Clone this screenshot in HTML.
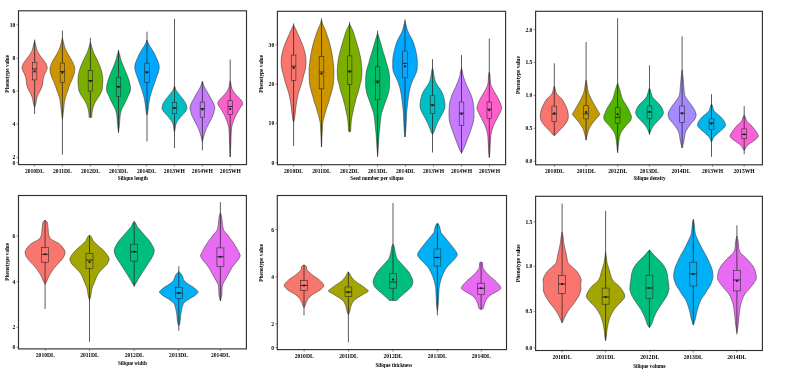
<!DOCTYPE html>
<html><head><meta charset="utf-8"><style>
html,body{margin:0;padding:0;background:#fff;}
svg{display:block;}
text{font-family:'Liberation Serif', 'Times New Roman', serif;font-weight:bold;fill:#000;}
.t{font-size:5.6px;} .ti{font-size:5.15px;} .yl{font-size:5.4px;}
</style></head><body>
<svg width="785" height="387" viewBox="0 0 785 387">
<path d="M34.60 41.00 C34.73 41.50 35.15 43.00 35.40 44.00 C35.65 45.00 35.82 45.93 36.10 47.00 C36.38 48.07 36.75 49.47 37.10 50.40 C37.45 51.33 37.80 51.87 38.20 52.60 C38.60 53.33 39.02 54.07 39.50 54.80 C39.98 55.53 40.55 56.27 41.10 57.00 C41.65 57.73 42.23 58.47 42.80 59.20 C43.37 59.93 43.98 60.67 44.50 61.40 C45.02 62.13 45.52 62.87 45.90 63.60 C46.28 64.33 46.58 65.07 46.80 65.80 C47.02 66.53 47.28 67.18 47.20 68.00 C47.12 68.82 46.67 69.80 46.30 70.70 C45.93 71.60 45.40 72.50 45.00 73.40 C44.60 74.30 44.20 75.18 43.90 76.10 C43.60 77.02 43.37 77.98 43.20 78.90 C43.03 79.82 43.00 80.68 42.90 81.60 C42.80 82.52 42.80 83.48 42.60 84.40 C42.40 85.32 42.03 86.18 41.70 87.10 C41.37 88.02 41.08 88.88 40.60 89.90 C40.12 90.92 39.35 92.10 38.80 93.20 C38.25 94.30 37.70 95.40 37.30 96.50 C36.90 97.60 36.63 98.70 36.40 99.80 C36.17 100.90 36.20 101.82 35.90 103.10 C35.60 104.38 34.82 106.77 34.60 107.50 L34.60 107.50 C34.38 106.77 33.60 104.38 33.30 103.10 C33.00 101.82 33.03 100.90 32.80 99.80 C32.57 98.70 32.30 97.60 31.90 96.50 C31.50 95.40 30.95 94.30 30.40 93.20 C29.85 92.10 29.08 90.92 28.60 89.90 C28.12 88.88 27.83 88.02 27.50 87.10 C27.17 86.18 26.80 85.32 26.60 84.40 C26.40 83.48 26.40 82.52 26.30 81.60 C26.20 80.68 26.17 79.82 26.00 78.90 C25.83 77.98 25.60 77.02 25.30 76.10 C25.00 75.18 24.60 74.30 24.20 73.40 C23.80 72.50 23.27 71.60 22.90 70.70 C22.53 69.80 22.08 68.82 22.00 68.00 C21.92 67.18 22.18 66.53 22.40 65.80 C22.62 65.07 22.92 64.33 23.30 63.60 C23.68 62.87 24.18 62.13 24.70 61.40 C25.22 60.67 25.83 59.93 26.40 59.20 C26.97 58.47 27.55 57.73 28.10 57.00 C28.65 56.27 29.22 55.53 29.70 54.80 C30.18 54.07 30.60 53.33 31.00 52.60 C31.40 51.87 31.75 51.33 32.10 50.40 C32.45 49.47 32.82 48.07 33.10 47.00 C33.38 45.93 33.55 45.00 33.80 44.00 C34.05 43.00 34.47 41.50 34.60 41.00 Z" fill="#F8766D" stroke="#333" stroke-width="0.55"/>
<line x1="34.60" y1="39.60" x2="34.60" y2="114.00" stroke="#262626" stroke-width="0.75"/>
<rect x="32.35" y="62.30" width="4.50" height="17.60" fill="#F8766D" stroke="#2e2e2e" stroke-width="0.6"/>
<line x1="32.35" y1="68.90" x2="36.85" y2="68.90" stroke="#111" stroke-width="0.8"/>
<circle cx="34.60" cy="71.40" r="1.05" fill="#111"/>
<path d="M62.40 38.00 C62.55 38.60 63.02 40.45 63.30 41.60 C63.58 42.75 63.80 43.80 64.10 44.90 C64.40 46.00 64.68 47.10 65.10 48.20 C65.52 49.30 66.05 50.40 66.60 51.50 C67.15 52.60 67.77 53.70 68.40 54.80 C69.03 55.90 69.75 57.00 70.40 58.10 C71.05 59.20 71.73 60.30 72.30 61.40 C72.87 62.50 73.40 63.60 73.80 64.70 C74.20 65.80 74.55 67.00 74.70 68.00 C74.85 69.00 74.77 69.80 74.70 70.70 C74.63 71.60 74.52 72.50 74.30 73.40 C74.08 74.30 73.73 75.18 73.40 76.10 C73.07 77.02 72.68 77.98 72.30 78.90 C71.92 79.82 71.50 80.68 71.10 81.60 C70.70 82.52 70.27 83.48 69.90 84.40 C69.53 85.32 69.20 86.18 68.90 87.10 C68.60 88.02 68.45 88.88 68.10 89.90 C67.75 90.92 67.20 92.10 66.80 93.20 C66.40 94.30 66.02 95.40 65.70 96.50 C65.38 97.60 65.13 98.70 64.90 99.80 C64.67 100.90 64.52 101.45 64.30 103.10 C64.08 104.75 63.82 107.72 63.60 109.70 C63.38 111.68 63.20 113.45 63.00 115.00 C62.80 116.55 62.50 118.33 62.40 119.00 L62.40 119.00 C62.30 118.33 62.00 116.55 61.80 115.00 C61.60 113.45 61.42 111.68 61.20 109.70 C60.98 107.72 60.72 104.75 60.50 103.10 C60.28 101.45 60.13 100.90 59.90 99.80 C59.67 98.70 59.42 97.60 59.10 96.50 C58.78 95.40 58.40 94.30 58.00 93.20 C57.60 92.10 57.05 90.92 56.70 89.90 C56.35 88.88 56.20 88.02 55.90 87.10 C55.60 86.18 55.27 85.32 54.90 84.40 C54.53 83.48 54.10 82.52 53.70 81.60 C53.30 80.68 52.88 79.82 52.50 78.90 C52.12 77.98 51.73 77.02 51.40 76.10 C51.07 75.18 50.72 74.30 50.50 73.40 C50.28 72.50 50.17 71.60 50.10 70.70 C50.03 69.80 49.95 69.00 50.10 68.00 C50.25 67.00 50.60 65.80 51.00 64.70 C51.40 63.60 51.93 62.50 52.50 61.40 C53.07 60.30 53.75 59.20 54.40 58.10 C55.05 57.00 55.77 55.90 56.40 54.80 C57.03 53.70 57.65 52.60 58.20 51.50 C58.75 50.40 59.28 49.30 59.70 48.20 C60.12 47.10 60.40 46.00 60.70 44.90 C61.00 43.80 61.22 42.75 61.50 41.60 C61.78 40.45 62.25 38.60 62.40 38.00 Z" fill="#CD9600" stroke="#333" stroke-width="0.55"/>
<line x1="62.40" y1="30.70" x2="62.40" y2="154.70" stroke="#262626" stroke-width="0.75"/>
<rect x="60.15" y="63.10" width="4.50" height="19.30" fill="#CD9600" stroke="#2e2e2e" stroke-width="0.6"/>
<line x1="60.15" y1="71.50" x2="64.65" y2="71.50" stroke="#111" stroke-width="0.8"/>
<circle cx="62.40" cy="72.70" r="1.05" fill="#111"/>
<path d="M90.40 42.00 C90.57 42.67 91.07 44.83 91.40 46.00 C91.73 47.17 92.08 48.00 92.40 49.00 C92.72 50.00 92.92 51.00 93.30 52.00 C93.68 53.00 94.20 54.00 94.70 55.00 C95.20 56.00 95.80 57.00 96.30 58.00 C96.80 59.00 97.25 60.00 97.70 61.00 C98.15 62.00 98.58 63.00 99.00 64.00 C99.42 65.00 99.83 66.00 100.20 67.00 C100.57 68.00 100.90 69.00 101.20 70.00 C101.50 71.00 101.78 72.02 102.00 73.00 C102.22 73.98 102.37 74.90 102.50 75.90 C102.63 76.90 102.75 78.00 102.80 79.00 C102.85 80.00 102.83 80.92 102.80 81.90 C102.77 82.88 102.68 83.90 102.60 84.90 C102.52 85.90 102.40 87.05 102.30 87.90 C102.20 88.75 102.20 89.23 102.00 90.00 C101.80 90.77 101.47 91.67 101.10 92.50 C100.73 93.33 100.28 94.17 99.80 95.00 C99.32 95.83 98.75 96.68 98.20 97.50 C97.65 98.32 97.02 99.08 96.50 99.90 C95.98 100.72 95.53 101.57 95.10 102.40 C94.67 103.23 94.23 104.08 93.90 104.90 C93.57 105.72 93.33 106.48 93.10 107.30 C92.87 108.12 92.67 108.97 92.50 109.80 C92.33 110.63 92.22 111.47 92.10 112.30 C91.98 113.13 91.88 113.97 91.80 114.80 C91.72 115.63 91.83 116.85 91.60 117.30 C91.37 117.75 90.60 117.47 90.40 117.50 L90.40 117.50 C90.20 117.47 89.43 117.75 89.20 117.30 C88.97 116.85 89.08 115.63 89.00 114.80 C88.92 113.97 88.82 113.13 88.70 112.30 C88.58 111.47 88.47 110.63 88.30 109.80 C88.13 108.97 87.93 108.12 87.70 107.30 C87.47 106.48 87.23 105.72 86.90 104.90 C86.57 104.08 86.13 103.23 85.70 102.40 C85.27 101.57 84.82 100.72 84.30 99.90 C83.78 99.08 83.15 98.32 82.60 97.50 C82.05 96.68 81.48 95.83 81.00 95.00 C80.52 94.17 80.07 93.33 79.70 92.50 C79.33 91.67 79.00 90.77 78.80 90.00 C78.60 89.23 78.60 88.75 78.50 87.90 C78.40 87.05 78.28 85.90 78.20 84.90 C78.12 83.90 78.03 82.88 78.00 81.90 C77.97 80.92 77.95 80.00 78.00 79.00 C78.05 78.00 78.17 76.90 78.30 75.90 C78.43 74.90 78.58 73.98 78.80 73.00 C79.02 72.02 79.30 71.00 79.60 70.00 C79.90 69.00 80.23 68.00 80.60 67.00 C80.97 66.00 81.38 65.00 81.80 64.00 C82.22 63.00 82.65 62.00 83.10 61.00 C83.55 60.00 84.00 59.00 84.50 58.00 C85.00 57.00 85.60 56.00 86.10 55.00 C86.60 54.00 87.12 53.00 87.50 52.00 C87.88 51.00 88.08 50.00 88.40 49.00 C88.72 48.00 89.07 47.17 89.40 46.00 C89.73 44.83 90.23 42.67 90.40 42.00 Z" fill="#7CAE00" stroke="#333" stroke-width="0.55"/>
<line x1="90.40" y1="37.70" x2="90.40" y2="117.30" stroke="#262626" stroke-width="0.75"/>
<rect x="88.15" y="70.60" width="4.50" height="20.50" fill="#7CAE00" stroke="#2e2e2e" stroke-width="0.6"/>
<line x1="88.15" y1="80.50" x2="92.65" y2="80.50" stroke="#111" stroke-width="0.8"/>
<circle cx="90.40" cy="81.20" r="1.05" fill="#111"/>
<path d="M118.50 51.00 C118.63 51.42 119.05 52.67 119.30 53.50 C119.55 54.33 119.82 55.25 120.00 56.00 C120.18 56.75 120.17 57.17 120.40 58.00 C120.63 58.83 121.05 60.00 121.40 61.00 C121.75 62.00 122.12 63.00 122.50 64.00 C122.88 65.00 123.30 66.00 123.70 67.00 C124.10 68.00 124.48 69.00 124.90 70.00 C125.32 71.00 125.78 72.02 126.20 73.00 C126.62 73.98 127.02 74.90 127.40 75.90 C127.78 76.90 128.17 78.00 128.50 79.00 C128.83 80.00 129.13 80.92 129.40 81.90 C129.67 82.88 129.92 83.90 130.10 84.90 C130.28 85.90 130.47 86.90 130.50 87.90 C130.53 88.90 130.47 90.05 130.30 90.90 C130.13 91.75 129.78 92.32 129.50 93.00 C129.22 93.68 128.93 94.25 128.60 95.00 C128.27 95.75 127.87 96.68 127.50 97.50 C127.13 98.32 126.78 99.08 126.40 99.90 C126.02 100.72 125.62 101.57 125.20 102.40 C124.78 103.23 124.33 104.08 123.90 104.90 C123.47 105.72 123.00 106.48 122.60 107.30 C122.20 108.12 121.80 108.97 121.50 109.80 C121.20 110.63 121.00 111.47 120.80 112.30 C120.60 113.13 120.45 113.77 120.30 114.80 C120.15 115.83 120.02 117.27 119.90 118.50 C119.78 119.73 119.72 120.78 119.60 122.20 C119.48 123.62 119.38 125.35 119.20 127.00 C119.02 128.65 118.62 131.25 118.50 132.10 L118.50 132.10 C118.38 131.25 117.98 128.65 117.80 127.00 C117.62 125.35 117.52 123.62 117.40 122.20 C117.28 120.78 117.22 119.73 117.10 118.50 C116.98 117.27 116.85 115.83 116.70 114.80 C116.55 113.77 116.40 113.13 116.20 112.30 C116.00 111.47 115.80 110.63 115.50 109.80 C115.20 108.97 114.80 108.12 114.40 107.30 C114.00 106.48 113.53 105.72 113.10 104.90 C112.67 104.08 112.22 103.23 111.80 102.40 C111.38 101.57 110.98 100.72 110.60 99.90 C110.22 99.08 109.87 98.32 109.50 97.50 C109.13 96.68 108.73 95.75 108.40 95.00 C108.07 94.25 107.78 93.68 107.50 93.00 C107.22 92.32 106.87 91.75 106.70 90.90 C106.53 90.05 106.47 88.90 106.50 87.90 C106.53 86.90 106.72 85.90 106.90 84.90 C107.08 83.90 107.33 82.88 107.60 81.90 C107.87 80.92 108.17 80.00 108.50 79.00 C108.83 78.00 109.22 76.90 109.60 75.90 C109.98 74.90 110.38 73.98 110.80 73.00 C111.22 72.02 111.68 71.00 112.10 70.00 C112.52 69.00 112.90 68.00 113.30 67.00 C113.70 66.00 114.12 65.00 114.50 64.00 C114.88 63.00 115.25 62.00 115.60 61.00 C115.95 60.00 116.37 58.83 116.60 58.00 C116.83 57.17 116.82 56.75 117.00 56.00 C117.18 55.25 117.45 54.33 117.70 53.50 C117.95 52.67 118.37 51.42 118.50 51.00 Z" fill="#00BE67" stroke="#333" stroke-width="0.55"/>
<line x1="118.50" y1="49.90" x2="118.50" y2="132.70" stroke="#262626" stroke-width="0.75"/>
<rect x="116.25" y="77.20" width="4.50" height="19.30" fill="#00BE67" stroke="#2e2e2e" stroke-width="0.6"/>
<line x1="116.25" y1="86.50" x2="120.75" y2="86.50" stroke="#111" stroke-width="0.8"/>
<circle cx="118.50" cy="87.10" r="1.05" fill="#111"/>
<path d="M147.00 40.00 C147.13 40.37 147.38 41.28 147.80 42.20 C148.22 43.12 148.88 44.42 149.50 45.50 C150.12 46.58 150.78 47.53 151.50 48.70 C152.22 49.87 153.10 51.22 153.80 52.50 C154.50 53.78 155.00 54.88 155.70 56.40 C156.40 57.92 157.40 59.87 158.00 61.60 C158.60 63.33 159.23 65.07 159.30 66.80 C159.37 68.53 158.85 70.28 158.40 72.00 C157.95 73.72 157.20 75.38 156.60 77.10 C156.00 78.82 155.42 80.57 154.80 82.30 C154.18 84.03 153.50 85.77 152.90 87.50 C152.30 89.23 151.72 90.98 151.20 92.70 C150.68 94.42 150.18 96.08 149.80 97.80 C149.42 99.52 149.15 101.28 148.90 103.00 C148.65 104.72 148.48 106.60 148.30 108.10 C148.12 109.60 148.02 110.85 147.80 112.00 C147.58 113.15 147.13 114.50 147.00 115.00 L147.00 115.00 C146.87 114.50 146.42 113.15 146.20 112.00 C145.98 110.85 145.88 109.60 145.70 108.10 C145.52 106.60 145.35 104.72 145.10 103.00 C144.85 101.28 144.58 99.52 144.20 97.80 C143.82 96.08 143.32 94.42 142.80 92.70 C142.28 90.98 141.70 89.23 141.10 87.50 C140.50 85.77 139.82 84.03 139.20 82.30 C138.58 80.57 138.00 78.82 137.40 77.10 C136.80 75.38 136.05 73.72 135.60 72.00 C135.15 70.28 134.63 68.53 134.70 66.80 C134.77 65.07 135.40 63.33 136.00 61.60 C136.60 59.87 137.60 57.92 138.30 56.40 C139.00 54.88 139.50 53.78 140.20 52.50 C140.90 51.22 141.78 49.87 142.50 48.70 C143.22 47.53 143.88 46.58 144.50 45.50 C145.12 44.42 145.78 43.12 146.20 42.20 C146.62 41.28 146.87 40.37 147.00 40.00 Z" fill="#00A9FF" stroke="#333" stroke-width="0.55"/>
<line x1="147.00" y1="31.70" x2="147.00" y2="141.50" stroke="#262626" stroke-width="0.75"/>
<rect x="144.75" y="63.10" width="4.50" height="19.30" fill="#00A9FF" stroke="#2e2e2e" stroke-width="0.6"/>
<line x1="144.75" y1="72.00" x2="149.25" y2="72.00" stroke="#111" stroke-width="0.8"/>
<circle cx="147.00" cy="72.50" r="1.05" fill="#111"/>
<path d="M174.50 86.00 C174.63 86.33 175.07 87.33 175.30 88.00 C175.53 88.67 175.58 89.37 175.90 90.00 C176.22 90.63 176.75 91.18 177.20 91.80 C177.65 92.42 178.12 93.08 178.60 93.70 C179.08 94.32 179.60 94.88 180.10 95.50 C180.60 96.12 181.10 96.77 181.60 97.40 C182.10 98.03 182.63 98.67 183.10 99.30 C183.57 99.93 184.00 100.58 184.40 101.20 C184.80 101.82 185.18 102.38 185.50 103.00 C185.82 103.62 186.08 104.28 186.30 104.90 C186.52 105.52 186.70 106.08 186.80 106.70 C186.90 107.32 187.00 107.98 186.90 108.60 C186.80 109.22 186.53 109.78 186.20 110.40 C185.87 111.02 185.40 111.68 184.90 112.30 C184.40 112.92 183.78 113.48 183.20 114.10 C182.62 114.72 181.97 115.37 181.40 116.00 C180.83 116.63 180.32 117.27 179.80 117.90 C179.28 118.53 178.75 119.18 178.30 119.80 C177.85 120.42 177.45 120.98 177.10 121.60 C176.75 122.22 176.47 122.77 176.20 123.50 C175.93 124.23 175.68 125.08 175.50 126.00 C175.32 126.92 175.27 128.00 175.10 129.00 C174.93 130.00 174.60 131.50 174.50 132.00 L174.50 132.00 C174.40 131.50 174.07 130.00 173.90 129.00 C173.73 128.00 173.68 126.92 173.50 126.00 C173.32 125.08 173.07 124.23 172.80 123.50 C172.53 122.77 172.25 122.22 171.90 121.60 C171.55 120.98 171.15 120.42 170.70 119.80 C170.25 119.18 169.72 118.53 169.20 117.90 C168.68 117.27 168.17 116.63 167.60 116.00 C167.03 115.37 166.38 114.72 165.80 114.10 C165.22 113.48 164.60 112.92 164.10 112.30 C163.60 111.68 163.13 111.02 162.80 110.40 C162.47 109.78 162.20 109.22 162.10 108.60 C162.00 107.98 162.10 107.32 162.20 106.70 C162.30 106.08 162.48 105.52 162.70 104.90 C162.92 104.28 163.18 103.62 163.50 103.00 C163.82 102.38 164.20 101.82 164.60 101.20 C165.00 100.58 165.43 99.93 165.90 99.30 C166.37 98.67 166.90 98.03 167.40 97.40 C167.90 96.77 168.40 96.12 168.90 95.50 C169.40 94.88 169.92 94.32 170.40 93.70 C170.88 93.08 171.35 92.42 171.80 91.80 C172.25 91.18 172.78 90.63 173.10 90.00 C173.42 89.37 173.47 88.67 173.70 88.00 C173.93 87.33 174.37 86.33 174.50 86.00 Z" fill="#00BFC4" stroke="#333" stroke-width="0.55"/>
<line x1="174.50" y1="18.70" x2="174.50" y2="148.10" stroke="#262626" stroke-width="0.75"/>
<rect x="172.25" y="102.30" width="4.50" height="11.40" fill="#00BFC4" stroke="#2e2e2e" stroke-width="0.6"/>
<line x1="172.25" y1="108.10" x2="176.75" y2="108.10" stroke="#111" stroke-width="0.8"/>
<circle cx="174.50" cy="108.10" r="1.05" fill="#111"/>
<path d="M202.40 81.30 C202.53 81.75 202.78 82.88 203.20 84.00 C203.62 85.12 204.12 86.50 204.90 88.00 C205.68 89.50 206.92 91.30 207.90 93.00 C208.88 94.70 209.88 96.53 210.80 98.20 C211.72 99.87 212.73 101.43 213.40 103.00 C214.07 104.57 214.68 106.18 214.80 107.60 C214.92 109.02 214.42 110.17 214.10 111.50 C213.78 112.83 213.47 114.18 212.90 115.60 C212.33 117.02 211.43 118.55 210.70 120.00 C209.97 121.45 209.22 122.88 208.50 124.30 C207.78 125.72 207.03 127.05 206.40 128.50 C205.77 129.95 205.17 131.58 204.70 133.00 C204.23 134.42 203.98 135.55 203.60 137.00 C203.22 138.45 202.60 140.92 202.40 141.70 L202.40 141.70 C202.20 140.92 201.58 138.45 201.20 137.00 C200.82 135.55 200.57 134.42 200.10 133.00 C199.63 131.58 199.03 129.95 198.40 128.50 C197.77 127.05 197.02 125.72 196.30 124.30 C195.58 122.88 194.83 121.45 194.10 120.00 C193.37 118.55 192.47 117.02 191.90 115.60 C191.33 114.18 191.02 112.83 190.70 111.50 C190.38 110.17 189.88 109.02 190.00 107.60 C190.12 106.18 190.73 104.57 191.40 103.00 C192.07 101.43 193.08 99.87 194.00 98.20 C194.92 96.53 195.92 94.70 196.90 93.00 C197.88 91.30 199.12 89.50 199.90 88.00 C200.68 86.50 201.18 85.12 201.60 84.00 C202.02 82.88 202.27 81.75 202.40 81.30 Z" fill="#C77CFF" stroke="#333" stroke-width="0.55"/>
<line x1="202.40" y1="81.30" x2="202.40" y2="150.30" stroke="#262626" stroke-width="0.75"/>
<rect x="200.15" y="102.10" width="4.50" height="15.10" fill="#C77CFF" stroke="#2e2e2e" stroke-width="0.6"/>
<line x1="200.15" y1="108.60" x2="204.65" y2="108.60" stroke="#111" stroke-width="0.8"/>
<circle cx="202.40" cy="109.50" r="1.05" fill="#111"/>
<path d="M230.20 81.00 C230.32 81.50 230.70 83.00 230.90 84.00 C231.10 85.00 231.22 86.17 231.40 87.00 C231.58 87.83 231.75 88.42 232.00 89.00 C232.25 89.58 232.60 90.00 232.90 90.50 C233.20 91.00 233.42 91.47 233.80 92.00 C234.18 92.53 234.77 93.15 235.20 93.70 C235.63 94.25 235.90 94.75 236.40 95.30 C236.90 95.85 237.63 96.45 238.20 97.00 C238.77 97.55 239.33 98.12 239.80 98.60 C240.27 99.08 240.67 99.48 241.00 99.90 C241.33 100.32 241.57 100.68 241.80 101.10 C242.03 101.52 242.27 101.98 242.40 102.40 C242.53 102.82 242.62 103.18 242.60 103.60 C242.58 104.02 242.48 104.48 242.30 104.90 C242.12 105.32 241.77 105.70 241.50 106.10 C241.23 106.50 240.98 106.90 240.70 107.30 C240.42 107.70 240.12 108.02 239.80 108.50 C239.48 108.98 239.13 109.63 238.80 110.20 C238.47 110.77 238.13 111.33 237.80 111.90 C237.47 112.47 237.12 113.05 236.80 113.60 C236.48 114.15 236.17 114.65 235.90 115.20 C235.63 115.75 235.43 116.35 235.20 116.90 C234.97 117.45 234.73 117.95 234.50 118.50 C234.27 119.05 234.02 119.65 233.80 120.20 C233.58 120.75 233.43 121.12 233.20 121.80 C232.97 122.48 232.67 123.30 232.40 124.30 C232.13 125.30 231.82 126.02 231.60 127.80 C231.38 129.58 231.23 132.13 231.10 135.00 C230.97 137.87 230.95 141.33 230.80 145.00 C230.65 148.67 230.30 155.00 230.20 157.00 L230.20 157.00 C230.10 155.00 229.75 148.67 229.60 145.00 C229.45 141.33 229.43 137.87 229.30 135.00 C229.17 132.13 229.02 129.58 228.80 127.80 C228.58 126.02 228.27 125.30 228.00 124.30 C227.73 123.30 227.43 122.48 227.20 121.80 C226.97 121.12 226.82 120.75 226.60 120.20 C226.38 119.65 226.13 119.05 225.90 118.50 C225.67 117.95 225.43 117.45 225.20 116.90 C224.97 116.35 224.77 115.75 224.50 115.20 C224.23 114.65 223.92 114.15 223.60 113.60 C223.28 113.05 222.93 112.47 222.60 111.90 C222.27 111.33 221.93 110.77 221.60 110.20 C221.27 109.63 220.92 108.98 220.60 108.50 C220.28 108.02 219.98 107.70 219.70 107.30 C219.42 106.90 219.17 106.50 218.90 106.10 C218.63 105.70 218.28 105.32 218.10 104.90 C217.92 104.48 217.82 104.02 217.80 103.60 C217.78 103.18 217.87 102.82 218.00 102.40 C218.13 101.98 218.37 101.52 218.60 101.10 C218.83 100.68 219.07 100.32 219.40 99.90 C219.73 99.48 220.13 99.08 220.60 98.60 C221.07 98.12 221.63 97.55 222.20 97.00 C222.77 96.45 223.50 95.85 224.00 95.30 C224.50 94.75 224.77 94.25 225.20 93.70 C225.63 93.15 226.22 92.53 226.60 92.00 C226.98 91.47 227.20 91.00 227.50 90.50 C227.80 90.00 228.15 89.58 228.40 89.00 C228.65 88.42 228.82 87.83 229.00 87.00 C229.18 86.17 229.30 85.00 229.50 84.00 C229.70 83.00 230.08 81.50 230.20 81.00 Z" fill="#FF61CC" stroke="#333" stroke-width="0.55"/>
<line x1="230.20" y1="59.60" x2="230.20" y2="157.00" stroke="#262626" stroke-width="0.75"/>
<rect x="227.95" y="100.70" width="4.50" height="13.80" fill="#FF61CC" stroke="#2e2e2e" stroke-width="0.6"/>
<line x1="227.95" y1="106.50" x2="232.45" y2="106.50" stroke="#111" stroke-width="0.8"/>
<circle cx="230.20" cy="109.00" r="1.05" fill="#111"/>
<rect x="18.50" y="10.80" width="228.00" height="153.80" fill="none" stroke="#303030" stroke-width="1.15"/>
<line x1="16.50" y1="24.80" x2="18.50" y2="24.80" stroke="#444" stroke-width="0.6"/>
<text class="t" x="15.30" y="24.80" text-anchor="end" dominant-baseline="central">10</text>
<line x1="16.50" y1="58.30" x2="18.50" y2="58.30" stroke="#444" stroke-width="0.6"/>
<text class="t" x="15.30" y="58.30" text-anchor="end" dominant-baseline="central">8</text>
<line x1="16.50" y1="91.00" x2="18.50" y2="91.00" stroke="#444" stroke-width="0.6"/>
<text class="t" x="15.30" y="91.00" text-anchor="end" dominant-baseline="central">6</text>
<line x1="16.50" y1="124.20" x2="18.50" y2="124.20" stroke="#444" stroke-width="0.6"/>
<text class="t" x="15.30" y="124.20" text-anchor="end" dominant-baseline="central">4</text>
<line x1="16.50" y1="157.40" x2="18.50" y2="157.40" stroke="#444" stroke-width="0.6"/>
<text class="t" x="15.30" y="157.40" text-anchor="end" dominant-baseline="central">2</text>
<line x1="16.50" y1="162.60" x2="18.50" y2="162.60" stroke="#444" stroke-width="0.6"/>
<text class="t" x="15.30" y="162.60" text-anchor="end" dominant-baseline="central">0</text>
<line x1="34.40" y1="164.60" x2="34.40" y2="166.60" stroke="#444" stroke-width="0.6"/>
<text class="t" x="34.40" y="171.20" text-anchor="middle" dominant-baseline="central">2010DL</text>
<line x1="62.40" y1="164.60" x2="62.40" y2="166.60" stroke="#444" stroke-width="0.6"/>
<text class="t" x="62.40" y="171.20" text-anchor="middle" dominant-baseline="central">2011DL</text>
<line x1="90.40" y1="164.60" x2="90.40" y2="166.60" stroke="#444" stroke-width="0.6"/>
<text class="t" x="90.40" y="171.20" text-anchor="middle" dominant-baseline="central">2012DL</text>
<line x1="118.40" y1="164.60" x2="118.40" y2="166.60" stroke="#444" stroke-width="0.6"/>
<text class="t" x="118.40" y="171.20" text-anchor="middle" dominant-baseline="central">2013DL</text>
<line x1="146.40" y1="164.60" x2="146.40" y2="166.60" stroke="#444" stroke-width="0.6"/>
<text class="t" x="146.40" y="171.20" text-anchor="middle" dominant-baseline="central">2014DL</text>
<line x1="174.40" y1="164.60" x2="174.40" y2="166.60" stroke="#444" stroke-width="0.6"/>
<text class="t" x="174.40" y="171.20" text-anchor="middle" dominant-baseline="central">2013WH</text>
<line x1="202.40" y1="164.60" x2="202.40" y2="166.60" stroke="#444" stroke-width="0.6"/>
<text class="t" x="202.40" y="171.20" text-anchor="middle" dominant-baseline="central">2014WH</text>
<line x1="230.40" y1="164.60" x2="230.40" y2="166.60" stroke="#444" stroke-width="0.6"/>
<text class="t" x="230.40" y="171.20" text-anchor="middle" dominant-baseline="central">2015WH</text>
<text class="ti" x="132.90" y="178.40" text-anchor="middle" dominant-baseline="central">Silique length</text>
<text x="7.40" y="73.70" text-anchor="middle" dominant-baseline="central" class="yl" transform="rotate(-90 7.40 73.70)">Phenotype value</text>
<path d="M293.60 25.00 C293.85 25.50 294.63 27.05 295.10 28.00 C295.57 28.95 295.97 29.75 296.40 30.70 C296.83 31.65 297.08 32.32 297.70 33.70 C298.32 35.08 299.28 37.12 300.10 39.00 C300.92 40.88 301.85 42.95 302.60 45.00 C303.35 47.05 304.08 49.30 304.60 51.30 C305.12 53.30 305.47 54.93 305.70 57.00 C305.93 59.07 306.10 61.53 306.00 63.70 C305.90 65.87 305.52 67.93 305.10 70.00 C304.68 72.07 304.02 74.10 303.50 76.10 C302.98 78.10 302.68 79.68 302.00 82.00 C301.32 84.32 300.07 87.83 299.40 90.00 C298.73 92.17 298.43 93.17 298.00 95.00 C297.57 96.83 297.15 99.00 296.80 101.00 C296.45 103.00 296.17 104.93 295.90 107.00 C295.63 109.07 295.45 111.30 295.20 113.40 C294.95 115.50 294.67 118.17 294.40 119.60 C294.13 121.03 293.73 121.60 293.60 122.00 L293.60 122.00 C293.47 121.60 293.07 121.03 292.80 119.60 C292.53 118.17 292.25 115.50 292.00 113.40 C291.75 111.30 291.57 109.07 291.30 107.00 C291.03 104.93 290.75 103.00 290.40 101.00 C290.05 99.00 289.63 96.83 289.20 95.00 C288.77 93.17 288.47 92.17 287.80 90.00 C287.13 87.83 285.88 84.32 285.20 82.00 C284.52 79.68 284.22 78.10 283.70 76.10 C283.18 74.10 282.52 72.07 282.10 70.00 C281.68 67.93 281.30 65.87 281.20 63.70 C281.10 61.53 281.27 59.07 281.50 57.00 C281.73 54.93 282.08 53.30 282.60 51.30 C283.12 49.30 283.85 47.05 284.60 45.00 C285.35 42.95 286.28 40.88 287.10 39.00 C287.92 37.12 288.88 35.08 289.50 33.70 C290.12 32.32 290.37 31.65 290.80 30.70 C291.23 29.75 291.63 28.95 292.10 28.00 C292.57 27.05 293.35 25.50 293.60 25.00 Z" fill="#F8766D" stroke="#333" stroke-width="0.55"/>
<line x1="293.60" y1="23.40" x2="293.60" y2="146.00" stroke="#262626" stroke-width="0.75"/>
<rect x="291.30" y="55.10" width="4.60" height="25.20" fill="#F8766D" stroke="#2e2e2e" stroke-width="0.6"/>
<line x1="291.30" y1="66.20" x2="295.90" y2="66.20" stroke="#111" stroke-width="0.8"/>
<circle cx="293.60" cy="67.90" r="1.05" fill="#111"/>
<path d="M321.50 20.00 C321.75 20.83 322.32 23.22 323.00 25.00 C323.68 26.78 324.88 28.87 325.60 30.70 C326.32 32.53 326.73 34.28 327.30 36.00 C327.87 37.72 328.50 39.33 329.00 41.00 C329.50 42.67 329.88 44.28 330.30 46.00 C330.72 47.72 331.13 49.47 331.50 51.30 C331.87 53.13 332.18 54.93 332.50 57.00 C332.82 59.07 333.17 61.53 333.40 63.70 C333.63 65.87 333.85 67.28 333.90 70.00 C333.95 72.72 333.83 77.42 333.70 80.00 C333.57 82.58 333.42 83.67 333.10 85.50 C332.78 87.33 332.27 89.25 331.80 91.00 C331.33 92.75 330.77 94.33 330.30 96.00 C329.83 97.67 329.43 99.53 329.00 101.00 C328.57 102.47 328.13 103.52 327.70 104.80 C327.27 106.08 326.83 107.27 326.40 108.70 C325.97 110.13 325.50 112.02 325.10 113.40 C324.70 114.78 324.33 115.72 324.00 117.00 C323.67 118.28 323.33 119.77 323.10 121.10 C322.87 122.43 322.77 122.68 322.60 125.00 C322.43 127.32 322.28 131.33 322.10 135.00 C321.92 138.67 321.60 145.00 321.50 147.00 L321.50 147.00 C321.40 145.00 321.08 138.67 320.90 135.00 C320.72 131.33 320.57 127.32 320.40 125.00 C320.23 122.68 320.13 122.43 319.90 121.10 C319.67 119.77 319.33 118.28 319.00 117.00 C318.67 115.72 318.30 114.78 317.90 113.40 C317.50 112.02 317.03 110.13 316.60 108.70 C316.17 107.27 315.73 106.08 315.30 104.80 C314.87 103.52 314.43 102.47 314.00 101.00 C313.57 99.53 313.17 97.67 312.70 96.00 C312.23 94.33 311.67 92.75 311.20 91.00 C310.73 89.25 310.22 87.33 309.90 85.50 C309.58 83.67 309.43 82.58 309.30 80.00 C309.17 77.42 309.05 72.72 309.10 70.00 C309.15 67.28 309.37 65.87 309.60 63.70 C309.83 61.53 310.18 59.07 310.50 57.00 C310.82 54.93 311.13 53.13 311.50 51.30 C311.87 49.47 312.28 47.72 312.70 46.00 C313.12 44.28 313.50 42.67 314.00 41.00 C314.50 39.33 315.13 37.72 315.70 36.00 C316.27 34.28 316.68 32.53 317.40 30.70 C318.12 28.87 319.32 26.78 320.00 25.00 C320.68 23.22 321.25 20.83 321.50 20.00 Z" fill="#CD9600" stroke="#333" stroke-width="0.55"/>
<line x1="321.50" y1="18.30" x2="321.50" y2="147.00" stroke="#262626" stroke-width="0.75"/>
<rect x="319.20" y="56.50" width="4.60" height="32.30" fill="#CD9600" stroke="#2e2e2e" stroke-width="0.6"/>
<line x1="319.20" y1="72.00" x2="323.80" y2="72.00" stroke="#111" stroke-width="0.8"/>
<circle cx="321.50" cy="73.70" r="1.05" fill="#111"/>
<path d="M349.60 24.00 C349.85 24.50 350.55 25.88 351.10 27.00 C351.65 28.12 352.32 29.20 352.90 30.70 C353.48 32.20 354.07 34.28 354.60 36.00 C355.13 37.72 355.60 39.33 356.10 41.00 C356.60 42.67 357.10 44.27 357.60 46.00 C358.10 47.73 358.67 49.73 359.10 51.40 C359.53 53.07 359.85 54.28 360.20 56.00 C360.55 57.72 360.92 59.37 361.20 61.70 C361.48 64.03 361.80 67.78 361.90 70.00 C362.00 72.22 361.92 73.28 361.80 75.00 C361.68 76.72 361.53 78.55 361.20 80.30 C360.87 82.05 360.25 83.72 359.80 85.50 C359.35 87.28 358.98 89.25 358.50 91.00 C358.02 92.75 357.40 94.33 356.90 96.00 C356.40 97.67 355.90 99.53 355.50 101.00 C355.10 102.47 354.82 103.52 354.50 104.80 C354.18 106.08 353.92 107.27 353.60 108.70 C353.28 110.13 352.88 112.02 352.60 113.40 C352.32 114.78 352.12 115.72 351.90 117.00 C351.68 118.28 351.47 119.60 351.30 121.10 C351.13 122.60 351.02 124.35 350.90 126.00 C350.78 127.65 350.82 130.00 350.60 131.00 C350.38 132.00 349.77 131.83 349.60 132.00 L349.60 132.00 C349.43 131.83 348.82 132.00 348.60 131.00 C348.38 130.00 348.42 127.65 348.30 126.00 C348.18 124.35 348.07 122.60 347.90 121.10 C347.73 119.60 347.52 118.28 347.30 117.00 C347.08 115.72 346.88 114.78 346.60 113.40 C346.32 112.02 345.92 110.13 345.60 108.70 C345.28 107.27 345.02 106.08 344.70 104.80 C344.38 103.52 344.10 102.47 343.70 101.00 C343.30 99.53 342.80 97.67 342.30 96.00 C341.80 94.33 341.18 92.75 340.70 91.00 C340.22 89.25 339.85 87.28 339.40 85.50 C338.95 83.72 338.33 82.05 338.00 80.30 C337.67 78.55 337.52 76.72 337.40 75.00 C337.28 73.28 337.20 72.22 337.30 70.00 C337.40 67.78 337.72 64.03 338.00 61.70 C338.28 59.37 338.65 57.72 339.00 56.00 C339.35 54.28 339.67 53.07 340.10 51.40 C340.53 49.73 341.10 47.73 341.60 46.00 C342.10 44.27 342.60 42.67 343.10 41.00 C343.60 39.33 344.07 37.72 344.60 36.00 C345.13 34.28 345.72 32.20 346.30 30.70 C346.88 29.20 347.55 28.12 348.10 27.00 C348.65 25.88 349.35 24.50 349.60 24.00 Z" fill="#7CAE00" stroke="#333" stroke-width="0.55"/>
<line x1="349.60" y1="22.00" x2="349.60" y2="131.60" stroke="#262626" stroke-width="0.75"/>
<rect x="347.30" y="55.90" width="4.60" height="28.60" fill="#7CAE00" stroke="#2e2e2e" stroke-width="0.6"/>
<line x1="347.30" y1="71.00" x2="351.90" y2="71.00" stroke="#111" stroke-width="0.8"/>
<circle cx="349.60" cy="71.70" r="1.05" fill="#111"/>
<path d="M377.60 33.00 C377.80 33.67 378.38 35.67 378.80 37.00 C379.22 38.33 379.70 39.67 380.10 41.00 C380.50 42.33 380.72 43.27 381.20 45.00 C381.68 46.73 382.40 49.40 383.00 51.40 C383.60 53.40 384.20 54.95 384.80 57.00 C385.40 59.05 385.98 61.53 386.60 63.70 C387.22 65.87 388.05 68.12 388.50 70.00 C388.95 71.88 389.12 73.28 389.30 75.00 C389.48 76.72 389.57 78.47 389.60 80.30 C389.63 82.13 389.62 84.22 389.50 86.00 C389.38 87.78 389.17 89.50 388.90 91.00 C388.63 92.50 388.30 93.70 387.90 95.00 C387.50 96.30 386.97 97.52 386.50 98.80 C386.03 100.08 385.57 101.40 385.10 102.70 C384.63 104.00 384.15 105.30 383.70 106.60 C383.25 107.90 382.80 109.22 382.40 110.50 C382.00 111.78 381.62 112.72 381.30 114.30 C380.98 115.88 380.75 117.82 380.50 120.00 C380.25 122.18 380.02 125.23 379.80 127.40 C379.58 129.57 379.38 130.90 379.20 133.00 C379.02 135.10 378.87 137.50 378.70 140.00 C378.53 142.50 378.38 145.43 378.20 148.00 C378.02 150.57 377.70 154.17 377.60 155.40 L377.60 155.40 C377.50 154.17 377.18 150.57 377.00 148.00 C376.82 145.43 376.67 142.50 376.50 140.00 C376.33 137.50 376.18 135.10 376.00 133.00 C375.82 130.90 375.62 129.57 375.40 127.40 C375.18 125.23 374.95 122.18 374.70 120.00 C374.45 117.82 374.22 115.88 373.90 114.30 C373.58 112.72 373.20 111.78 372.80 110.50 C372.40 109.22 371.95 107.90 371.50 106.60 C371.05 105.30 370.57 104.00 370.10 102.70 C369.63 101.40 369.17 100.08 368.70 98.80 C368.23 97.52 367.70 96.30 367.30 95.00 C366.90 93.70 366.57 92.50 366.30 91.00 C366.03 89.50 365.82 87.78 365.70 86.00 C365.58 84.22 365.57 82.13 365.60 80.30 C365.63 78.47 365.72 76.72 365.90 75.00 C366.08 73.28 366.25 71.88 366.70 70.00 C367.15 68.12 367.98 65.87 368.60 63.70 C369.22 61.53 369.80 59.05 370.40 57.00 C371.00 54.95 371.60 53.40 372.20 51.40 C372.80 49.40 373.52 46.73 374.00 45.00 C374.48 43.27 374.70 42.33 375.10 41.00 C375.50 39.67 375.98 38.33 376.40 37.00 C376.82 35.67 377.40 33.67 377.60 33.00 Z" fill="#00BE67" stroke="#333" stroke-width="0.55"/>
<line x1="377.60" y1="30.70" x2="377.60" y2="157.00" stroke="#262626" stroke-width="0.75"/>
<rect x="375.30" y="66.90" width="4.60" height="32.90" fill="#00BE67" stroke="#2e2e2e" stroke-width="0.6"/>
<line x1="375.30" y1="81.00" x2="379.90" y2="81.00" stroke="#111" stroke-width="0.8"/>
<circle cx="377.60" cy="82.40" r="1.05" fill="#111"/>
<path d="M405.00 21.00 C405.17 21.67 405.57 23.38 406.00 25.00 C406.43 26.62 406.90 28.87 407.60 30.70 C408.30 32.53 409.33 34.28 410.20 36.00 C411.07 37.72 412.08 39.33 412.80 41.00 C413.52 42.67 413.98 44.27 414.50 46.00 C415.02 47.73 415.52 49.73 415.90 51.40 C416.28 53.07 416.57 54.28 416.80 56.00 C417.03 57.72 417.27 59.37 417.30 61.70 C417.33 64.03 417.35 67.78 417.00 70.00 C416.65 72.22 415.92 73.28 415.20 75.00 C414.48 76.72 413.47 78.47 412.70 80.30 C411.93 82.13 411.15 84.22 410.60 86.00 C410.05 87.78 409.75 89.33 409.40 91.00 C409.05 92.67 408.77 94.17 408.50 96.00 C408.23 97.83 408.03 100.00 407.80 102.00 C407.57 104.00 407.30 106.17 407.10 108.00 C406.90 109.83 406.73 111.00 406.60 113.00 C406.47 115.00 406.43 117.17 406.30 120.00 C406.17 122.83 406.02 127.17 405.80 130.00 C405.58 132.83 405.13 135.83 405.00 137.00 L405.00 137.00 C404.87 135.83 404.42 132.83 404.20 130.00 C403.98 127.17 403.83 122.83 403.70 120.00 C403.57 117.17 403.53 115.00 403.40 113.00 C403.27 111.00 403.10 109.83 402.90 108.00 C402.70 106.17 402.43 104.00 402.20 102.00 C401.97 100.00 401.77 97.83 401.50 96.00 C401.23 94.17 400.95 92.67 400.60 91.00 C400.25 89.33 399.95 87.78 399.40 86.00 C398.85 84.22 398.07 82.13 397.30 80.30 C396.53 78.47 395.52 76.72 394.80 75.00 C394.08 73.28 393.35 72.22 393.00 70.00 C392.65 67.78 392.67 64.03 392.70 61.70 C392.73 59.37 392.97 57.72 393.20 56.00 C393.43 54.28 393.72 53.07 394.10 51.40 C394.48 49.73 394.98 47.73 395.50 46.00 C396.02 44.27 396.48 42.67 397.20 41.00 C397.92 39.33 398.93 37.72 399.80 36.00 C400.67 34.28 401.70 32.53 402.40 30.70 C403.10 28.87 403.57 26.62 404.00 25.00 C404.43 23.38 404.83 21.67 405.00 21.00 Z" fill="#00A9FF" stroke="#333" stroke-width="0.55"/>
<line x1="405.00" y1="19.30" x2="405.00" y2="137.00" stroke="#262626" stroke-width="0.75"/>
<rect x="402.70" y="51.00" width="4.60" height="26.90" fill="#00A9FF" stroke="#2e2e2e" stroke-width="0.6"/>
<line x1="402.70" y1="63.40" x2="407.30" y2="63.40" stroke="#111" stroke-width="0.8"/>
<circle cx="405.00" cy="66.30" r="1.05" fill="#111"/>
<path d="M432.50 68.00 C432.60 68.33 432.92 69.17 433.10 70.00 C433.28 70.83 433.45 72.00 433.60 73.00 C433.75 74.00 433.85 75.12 434.00 76.00 C434.15 76.88 434.33 77.55 434.50 78.30 C434.67 79.05 434.75 79.75 435.00 80.50 C435.25 81.25 435.63 82.05 436.00 82.80 C436.37 83.55 436.73 84.25 437.20 85.00 C437.67 85.75 438.27 86.55 438.80 87.30 C439.33 88.05 439.92 88.75 440.40 89.50 C440.88 90.25 441.32 91.05 441.70 91.80 C442.08 92.55 442.40 93.25 442.70 94.00 C443.00 94.75 443.27 95.55 443.50 96.30 C443.73 97.05 443.93 97.75 444.10 98.50 C444.27 99.25 444.38 100.05 444.50 100.80 C444.62 101.55 444.72 102.13 444.80 103.00 C444.88 103.87 445.05 105.00 445.00 106.00 C444.95 107.00 444.80 108.00 444.50 109.00 C444.20 110.00 443.68 111.00 443.20 112.00 C442.72 113.00 442.15 114.00 441.60 115.00 C441.05 116.00 440.43 117.00 439.90 118.00 C439.37 119.00 438.90 120.00 438.40 121.00 C437.90 122.00 437.35 123.00 436.90 124.00 C436.45 125.00 436.08 126.00 435.70 127.00 C435.32 128.00 434.92 129.12 434.60 130.00 C434.28 130.88 434.15 131.55 433.80 132.30 C433.45 133.05 432.72 134.13 432.50 134.50 L432.50 134.50 C432.28 134.13 431.55 133.05 431.20 132.30 C430.85 131.55 430.72 130.88 430.40 130.00 C430.08 129.12 429.68 128.00 429.30 127.00 C428.92 126.00 428.55 125.00 428.10 124.00 C427.65 123.00 427.10 122.00 426.60 121.00 C426.10 120.00 425.63 119.00 425.10 118.00 C424.57 117.00 423.95 116.00 423.40 115.00 C422.85 114.00 422.28 113.00 421.80 112.00 C421.32 111.00 420.80 110.00 420.50 109.00 C420.20 108.00 420.05 107.00 420.00 106.00 C419.95 105.00 420.12 103.87 420.20 103.00 C420.28 102.13 420.38 101.55 420.50 100.80 C420.62 100.05 420.73 99.25 420.90 98.50 C421.07 97.75 421.27 97.05 421.50 96.30 C421.73 95.55 422.00 94.75 422.30 94.00 C422.60 93.25 422.92 92.55 423.30 91.80 C423.68 91.05 424.12 90.25 424.60 89.50 C425.08 88.75 425.67 88.05 426.20 87.30 C426.73 86.55 427.33 85.75 427.80 85.00 C428.27 84.25 428.63 83.55 429.00 82.80 C429.37 82.05 429.75 81.25 430.00 80.50 C430.25 79.75 430.33 79.05 430.50 78.30 C430.67 77.55 430.85 76.88 431.00 76.00 C431.15 75.12 431.25 74.00 431.40 73.00 C431.55 72.00 431.72 70.83 431.90 70.00 C432.08 69.17 432.40 68.33 432.50 68.00 Z" fill="#00BFC4" stroke="#333" stroke-width="0.55"/>
<line x1="432.50" y1="59.20" x2="432.50" y2="152.50" stroke="#262626" stroke-width="0.75"/>
<rect x="430.20" y="95.80" width="4.60" height="17.60" fill="#00BFC4" stroke="#2e2e2e" stroke-width="0.6"/>
<line x1="430.20" y1="105.00" x2="434.80" y2="105.00" stroke="#111" stroke-width="0.8"/>
<circle cx="432.50" cy="105.30" r="1.05" fill="#111"/>
<path d="M461.50 68.00 C461.60 68.33 461.90 69.17 462.10 70.00 C462.30 70.83 462.52 72.00 462.70 73.00 C462.88 74.00 463.00 75.12 463.20 76.00 C463.40 76.88 463.65 77.55 463.90 78.30 C464.15 79.05 464.42 79.75 464.70 80.50 C464.98 81.25 465.30 82.05 465.60 82.80 C465.90 83.55 466.18 84.25 466.50 85.00 C466.82 85.75 467.15 86.55 467.50 87.30 C467.85 88.05 468.25 88.75 468.60 89.50 C468.95 90.25 469.27 91.05 469.60 91.80 C469.93 92.55 470.28 93.25 470.60 94.00 C470.92 94.75 471.23 95.55 471.50 96.30 C471.77 97.05 471.98 97.75 472.20 98.50 C472.42 99.25 472.62 100.05 472.80 100.80 C472.98 101.55 473.13 101.88 473.30 103.00 C473.47 104.12 473.68 106.00 473.80 107.50 C473.92 109.00 473.98 110.35 474.00 112.00 C474.02 113.65 473.98 115.90 473.90 117.40 C473.82 118.90 473.70 119.90 473.50 121.00 C473.30 122.10 472.98 123.00 472.70 124.00 C472.42 125.00 472.12 126.00 471.80 127.00 C471.48 128.00 471.15 129.00 470.80 130.00 C470.45 131.00 470.07 132.00 469.70 133.00 C469.33 134.00 468.97 135.00 468.60 136.00 C468.23 137.00 467.87 138.00 467.50 139.00 C467.13 140.00 466.78 141.00 466.40 142.00 C466.02 143.00 465.60 144.00 465.20 145.00 C464.80 146.00 464.38 147.08 464.00 148.00 C463.62 148.92 463.32 149.67 462.90 150.50 C462.48 151.33 461.73 152.58 461.50 153.00 L461.50 153.00 C461.27 152.58 460.52 151.33 460.10 150.50 C459.68 149.67 459.38 148.92 459.00 148.00 C458.62 147.08 458.20 146.00 457.80 145.00 C457.40 144.00 456.98 143.00 456.60 142.00 C456.22 141.00 455.87 140.00 455.50 139.00 C455.13 138.00 454.77 137.00 454.40 136.00 C454.03 135.00 453.67 134.00 453.30 133.00 C452.93 132.00 452.55 131.00 452.20 130.00 C451.85 129.00 451.52 128.00 451.20 127.00 C450.88 126.00 450.58 125.00 450.30 124.00 C450.02 123.00 449.70 122.10 449.50 121.00 C449.30 119.90 449.18 118.90 449.10 117.40 C449.02 115.90 448.98 113.65 449.00 112.00 C449.02 110.35 449.08 109.00 449.20 107.50 C449.32 106.00 449.53 104.12 449.70 103.00 C449.87 101.88 450.02 101.55 450.20 100.80 C450.38 100.05 450.58 99.25 450.80 98.50 C451.02 97.75 451.23 97.05 451.50 96.30 C451.77 95.55 452.08 94.75 452.40 94.00 C452.72 93.25 453.07 92.55 453.40 91.80 C453.73 91.05 454.05 90.25 454.40 89.50 C454.75 88.75 455.15 88.05 455.50 87.30 C455.85 86.55 456.18 85.75 456.50 85.00 C456.82 84.25 457.10 83.55 457.40 82.80 C457.70 82.05 458.02 81.25 458.30 80.50 C458.58 79.75 458.85 79.05 459.10 78.30 C459.35 77.55 459.60 76.88 459.80 76.00 C460.00 75.12 460.12 74.00 460.30 73.00 C460.48 72.00 460.70 70.83 460.90 70.00 C461.10 69.17 461.40 68.33 461.50 68.00 Z" fill="#C77CFF" stroke="#333" stroke-width="0.55"/>
<line x1="461.50" y1="55.10" x2="461.50" y2="153.60" stroke="#262626" stroke-width="0.75"/>
<rect x="459.20" y="102.00" width="4.60" height="23.50" fill="#C77CFF" stroke="#2e2e2e" stroke-width="0.6"/>
<line x1="459.20" y1="113.00" x2="463.80" y2="113.00" stroke="#111" stroke-width="0.8"/>
<circle cx="461.50" cy="114.00" r="1.05" fill="#111"/>
<path d="M489.30 72.00 C489.42 72.50 489.83 73.67 490.00 75.00 C490.17 76.33 490.20 78.67 490.30 80.00 C490.40 81.33 490.50 82.17 490.60 83.00 C490.70 83.83 490.68 84.28 490.90 85.00 C491.12 85.72 491.55 86.55 491.90 87.30 C492.25 88.05 492.60 88.75 493.00 89.50 C493.40 90.25 493.87 91.05 494.30 91.80 C494.73 92.55 495.17 93.25 495.60 94.00 C496.03 94.75 496.47 95.55 496.90 96.30 C497.33 97.05 497.80 97.75 498.20 98.50 C498.60 99.25 498.95 100.05 499.30 100.80 C499.65 101.55 500.00 102.25 500.30 103.00 C500.60 103.75 500.88 104.55 501.10 105.30 C501.32 106.05 501.57 106.75 501.60 107.50 C501.63 108.25 501.55 108.98 501.30 109.80 C501.05 110.62 500.55 111.45 500.10 112.40 C499.65 113.35 499.12 114.47 498.60 115.50 C498.08 116.53 497.53 117.57 497.00 118.60 C496.47 119.63 495.92 120.67 495.40 121.70 C494.88 122.73 494.35 123.77 493.90 124.80 C493.45 125.83 493.07 126.87 492.70 127.90 C492.33 128.93 491.97 129.98 491.70 131.00 C491.43 132.02 491.27 132.97 491.10 134.00 C490.93 135.03 490.85 135.37 490.70 137.20 C490.55 139.03 490.33 142.53 490.20 145.00 C490.07 147.47 490.05 150.00 489.90 152.00 C489.75 154.00 489.40 156.17 489.30 157.00 L489.30 157.00 C489.20 156.17 488.85 154.00 488.70 152.00 C488.55 150.00 488.53 147.47 488.40 145.00 C488.27 142.53 488.05 139.03 487.90 137.20 C487.75 135.37 487.67 135.03 487.50 134.00 C487.33 132.97 487.17 132.02 486.90 131.00 C486.63 129.98 486.27 128.93 485.90 127.90 C485.53 126.87 485.15 125.83 484.70 124.80 C484.25 123.77 483.72 122.73 483.20 121.70 C482.68 120.67 482.13 119.63 481.60 118.60 C481.07 117.57 480.52 116.53 480.00 115.50 C479.48 114.47 478.95 113.35 478.50 112.40 C478.05 111.45 477.55 110.62 477.30 109.80 C477.05 108.98 476.97 108.25 477.00 107.50 C477.03 106.75 477.28 106.05 477.50 105.30 C477.72 104.55 478.00 103.75 478.30 103.00 C478.60 102.25 478.95 101.55 479.30 100.80 C479.65 100.05 480.00 99.25 480.40 98.50 C480.80 97.75 481.27 97.05 481.70 96.30 C482.13 95.55 482.57 94.75 483.00 94.00 C483.43 93.25 483.87 92.55 484.30 91.80 C484.73 91.05 485.20 90.25 485.60 89.50 C486.00 88.75 486.35 88.05 486.70 87.30 C487.05 86.55 487.48 85.72 487.70 85.00 C487.92 84.28 487.90 83.83 488.00 83.00 C488.10 82.17 488.20 81.33 488.30 80.00 C488.40 78.67 488.43 76.33 488.60 75.00 C488.77 73.67 489.18 72.50 489.30 72.00 Z" fill="#FF61CC" stroke="#333" stroke-width="0.55"/>
<line x1="489.30" y1="38.50" x2="489.30" y2="158.00" stroke="#262626" stroke-width="0.75"/>
<rect x="487.00" y="102.00" width="4.60" height="16.50" fill="#FF61CC" stroke="#2e2e2e" stroke-width="0.6"/>
<line x1="487.00" y1="109.00" x2="491.60" y2="109.00" stroke="#111" stroke-width="0.8"/>
<circle cx="489.30" cy="110.30" r="1.05" fill="#111"/>
<rect x="277.40" y="11.30" width="228.20" height="153.40" fill="none" stroke="#303030" stroke-width="1.15"/>
<line x1="275.40" y1="44.80" x2="277.40" y2="44.80" stroke="#444" stroke-width="0.6"/>
<text class="t" x="274.20" y="44.80" text-anchor="end" dominant-baseline="central">30</text>
<line x1="275.40" y1="84.30" x2="277.40" y2="84.30" stroke="#444" stroke-width="0.6"/>
<text class="t" x="274.20" y="84.30" text-anchor="end" dominant-baseline="central">20</text>
<line x1="275.40" y1="123.30" x2="277.40" y2="123.30" stroke="#444" stroke-width="0.6"/>
<text class="t" x="274.20" y="123.30" text-anchor="end" dominant-baseline="central">10</text>
<line x1="275.40" y1="162.80" x2="277.40" y2="162.80" stroke="#444" stroke-width="0.6"/>
<text class="t" x="274.20" y="162.80" text-anchor="end" dominant-baseline="central">0</text>
<line x1="293.50" y1="164.70" x2="293.50" y2="166.70" stroke="#444" stroke-width="0.6"/>
<text class="t" x="293.50" y="170.90" text-anchor="middle" dominant-baseline="central">2010DL</text>
<line x1="321.50" y1="164.70" x2="321.50" y2="166.70" stroke="#444" stroke-width="0.6"/>
<text class="t" x="321.50" y="170.90" text-anchor="middle" dominant-baseline="central">2011DL</text>
<line x1="349.50" y1="164.70" x2="349.50" y2="166.70" stroke="#444" stroke-width="0.6"/>
<text class="t" x="349.50" y="170.90" text-anchor="middle" dominant-baseline="central">2012DL</text>
<line x1="377.50" y1="164.70" x2="377.50" y2="166.70" stroke="#444" stroke-width="0.6"/>
<text class="t" x="377.50" y="170.90" text-anchor="middle" dominant-baseline="central">2013DL</text>
<line x1="405.50" y1="164.70" x2="405.50" y2="166.70" stroke="#444" stroke-width="0.6"/>
<text class="t" x="405.50" y="170.90" text-anchor="middle" dominant-baseline="central">2014DL</text>
<line x1="433.50" y1="164.70" x2="433.50" y2="166.70" stroke="#444" stroke-width="0.6"/>
<text class="t" x="433.50" y="170.90" text-anchor="middle" dominant-baseline="central">2013WH</text>
<line x1="461.50" y1="164.70" x2="461.50" y2="166.70" stroke="#444" stroke-width="0.6"/>
<text class="t" x="461.50" y="170.90" text-anchor="middle" dominant-baseline="central">2014WH</text>
<line x1="489.50" y1="164.70" x2="489.50" y2="166.70" stroke="#444" stroke-width="0.6"/>
<text class="t" x="489.50" y="170.90" text-anchor="middle" dominant-baseline="central">2015WH</text>
<text class="ti" x="376.90" y="178.30" text-anchor="middle" dominant-baseline="central">Seed number per silique</text>
<text x="261.40" y="73.80" text-anchor="middle" dominant-baseline="central" class="yl" transform="rotate(-90 261.40 73.80)">Phenotype value</text>
<path d="M554.30 86.00 C554.43 86.42 554.88 87.70 555.10 88.50 C555.32 89.30 555.43 90.17 555.60 90.80 C555.77 91.43 555.90 91.78 556.10 92.30 C556.30 92.82 556.45 93.37 556.80 93.90 C557.15 94.43 557.70 94.98 558.20 95.50 C558.70 96.02 559.28 96.50 559.80 97.00 C560.32 97.50 560.85 97.98 561.30 98.50 C561.75 99.02 562.05 99.45 562.50 100.10 C562.95 100.75 563.55 101.62 564.00 102.40 C564.45 103.18 564.75 103.88 565.20 104.80 C565.65 105.72 566.30 106.87 566.70 107.90 C567.10 108.93 567.35 109.97 567.60 111.00 C567.85 112.03 568.08 113.07 568.20 114.10 C568.32 115.13 568.37 116.30 568.30 117.20 C568.23 118.10 568.05 118.73 567.80 119.50 C567.55 120.27 567.23 121.02 566.80 121.80 C566.37 122.58 565.78 123.42 565.20 124.20 C564.62 124.98 563.98 125.73 563.30 126.50 C562.62 127.27 561.83 128.03 561.10 128.80 C560.37 129.57 559.52 130.45 558.90 131.10 C558.28 131.75 557.85 132.18 557.40 132.70 C556.95 133.22 556.72 133.75 556.20 134.20 C555.68 134.65 554.62 135.20 554.30 135.40 L554.30 135.40 C553.98 135.20 552.92 134.65 552.40 134.20 C551.88 133.75 551.65 133.22 551.20 132.70 C550.75 132.18 550.32 131.75 549.70 131.10 C549.08 130.45 548.23 129.57 547.50 128.80 C546.77 128.03 545.98 127.27 545.30 126.50 C544.62 125.73 543.98 124.98 543.40 124.20 C542.82 123.42 542.23 122.58 541.80 121.80 C541.37 121.02 541.05 120.27 540.80 119.50 C540.55 118.73 540.37 118.10 540.30 117.20 C540.23 116.30 540.28 115.13 540.40 114.10 C540.52 113.07 540.75 112.03 541.00 111.00 C541.25 109.97 541.50 108.93 541.90 107.90 C542.30 106.87 542.95 105.72 543.40 104.80 C543.85 103.88 544.15 103.18 544.60 102.40 C545.05 101.62 545.65 100.75 546.10 100.10 C546.55 99.45 546.85 99.02 547.30 98.50 C547.75 97.98 548.28 97.50 548.80 97.00 C549.32 96.50 549.90 96.02 550.40 95.50 C550.90 94.98 551.45 94.43 551.80 93.90 C552.15 93.37 552.30 92.82 552.50 92.30 C552.70 91.78 552.83 91.43 553.00 90.80 C553.17 90.17 553.28 89.30 553.50 88.50 C553.72 87.70 554.17 86.42 554.30 86.00 Z" fill="#F8766D" stroke="#333" stroke-width="0.55"/>
<line x1="554.30" y1="63.30" x2="554.30" y2="135.60" stroke="#262626" stroke-width="0.75"/>
<rect x="551.90" y="106.10" width="4.80" height="15.40" fill="#F8766D" stroke="#2e2e2e" stroke-width="0.6"/>
<line x1="551.90" y1="113.90" x2="556.70" y2="113.90" stroke="#111" stroke-width="0.8"/>
<circle cx="554.30" cy="113.40" r="1.05" fill="#111"/>
<path d="M586.10 80.00 C586.23 80.67 586.70 82.83 586.90 84.00 C587.10 85.17 587.17 86.12 587.30 87.00 C587.43 87.88 587.52 88.40 587.70 89.30 C587.88 90.20 588.13 91.50 588.40 92.40 C588.67 93.30 588.98 93.93 589.30 94.70 C589.62 95.47 589.93 96.22 590.30 97.00 C590.67 97.78 591.10 98.62 591.50 99.40 C591.90 100.18 592.28 100.93 592.70 101.70 C593.12 102.47 593.57 103.23 594.00 104.00 C594.43 104.77 594.85 105.52 595.30 106.30 C595.75 107.08 596.25 107.92 596.70 108.70 C597.15 109.48 597.63 110.37 598.00 111.00 C598.37 111.63 598.62 111.98 598.90 112.50 C599.18 113.02 599.70 113.57 599.70 114.10 C599.70 114.63 599.25 115.18 598.90 115.70 C598.55 116.22 598.15 116.57 597.60 117.20 C597.05 117.83 596.27 118.73 595.60 119.50 C594.93 120.27 594.23 121.02 593.60 121.80 C592.97 122.58 592.35 123.42 591.80 124.20 C591.25 124.98 590.75 125.73 590.30 126.50 C589.85 127.27 589.43 128.03 589.10 128.80 C588.77 129.57 588.60 130.12 588.30 131.10 C588.00 132.08 587.67 133.20 587.30 134.70 C586.93 136.20 586.30 139.20 586.10 140.10 L586.10 140.10 C585.90 139.20 585.27 136.20 584.90 134.70 C584.53 133.20 584.20 132.08 583.90 131.10 C583.60 130.12 583.43 129.57 583.10 128.80 C582.77 128.03 582.35 127.27 581.90 126.50 C581.45 125.73 580.95 124.98 580.40 124.20 C579.85 123.42 579.23 122.58 578.60 121.80 C577.97 121.02 577.27 120.27 576.60 119.50 C575.93 118.73 575.15 117.83 574.60 117.20 C574.05 116.57 573.65 116.22 573.30 115.70 C572.95 115.18 572.50 114.63 572.50 114.10 C572.50 113.57 573.02 113.02 573.30 112.50 C573.58 111.98 573.83 111.63 574.20 111.00 C574.57 110.37 575.05 109.48 575.50 108.70 C575.95 107.92 576.45 107.08 576.90 106.30 C577.35 105.52 577.77 104.77 578.20 104.00 C578.63 103.23 579.08 102.47 579.50 101.70 C579.92 100.93 580.30 100.18 580.70 99.40 C581.10 98.62 581.53 97.78 581.90 97.00 C582.27 96.22 582.58 95.47 582.90 94.70 C583.22 93.93 583.53 93.30 583.80 92.40 C584.07 91.50 584.32 90.20 584.50 89.30 C584.68 88.40 584.77 87.88 584.90 87.00 C585.03 86.12 585.10 85.17 585.30 84.00 C585.50 82.83 585.97 80.67 586.10 80.00 Z" fill="#C49A00" stroke="#333" stroke-width="0.55"/>
<line x1="586.10" y1="42.00" x2="586.10" y2="140.10" stroke="#262626" stroke-width="0.75"/>
<rect x="583.70" y="105.70" width="4.80" height="13.20" fill="#C49A00" stroke="#2e2e2e" stroke-width="0.6"/>
<line x1="583.70" y1="113.90" x2="588.50" y2="113.90" stroke="#111" stroke-width="0.8"/>
<circle cx="586.10" cy="112.10" r="1.05" fill="#111"/>
<path d="M617.60 83.00 C617.77 83.50 618.30 85.08 618.60 86.00 C618.90 86.92 619.17 87.78 619.40 88.50 C619.63 89.22 619.80 89.57 620.00 90.30 C620.20 91.03 620.35 91.92 620.60 92.90 C620.85 93.88 621.17 95.12 621.50 96.20 C621.83 97.28 622.10 98.33 622.60 99.40 C623.10 100.47 623.83 101.53 624.50 102.60 C625.17 103.67 625.95 104.73 626.60 105.80 C627.25 106.87 627.85 107.92 628.40 109.00 C628.95 110.08 629.48 111.33 629.90 112.30 C630.32 113.27 630.63 113.95 630.90 114.80 C631.17 115.65 631.48 116.63 631.50 117.40 C631.52 118.17 631.25 118.75 631.00 119.40 C630.75 120.05 630.45 120.65 630.00 121.30 C629.55 121.95 628.92 122.65 628.30 123.30 C627.68 123.95 627.00 124.42 626.30 125.20 C625.60 125.98 624.78 127.12 624.10 128.00 C623.42 128.88 622.77 129.68 622.20 130.50 C621.63 131.32 621.12 131.98 620.70 132.90 C620.28 133.82 619.97 134.98 619.70 136.00 C619.43 137.02 619.32 137.50 619.10 139.00 C618.88 140.50 618.65 142.75 618.40 145.00 C618.15 147.25 617.73 151.25 617.60 152.50 L617.60 152.50 C617.47 151.25 617.05 147.25 616.80 145.00 C616.55 142.75 616.32 140.50 616.10 139.00 C615.88 137.50 615.77 137.02 615.50 136.00 C615.23 134.98 614.92 133.82 614.50 132.90 C614.08 131.98 613.57 131.32 613.00 130.50 C612.43 129.68 611.78 128.88 611.10 128.00 C610.42 127.12 609.60 125.98 608.90 125.20 C608.20 124.42 607.52 123.95 606.90 123.30 C606.28 122.65 605.65 121.95 605.20 121.30 C604.75 120.65 604.45 120.05 604.20 119.40 C603.95 118.75 603.68 118.17 603.70 117.40 C603.72 116.63 604.03 115.65 604.30 114.80 C604.57 113.95 604.88 113.27 605.30 112.30 C605.72 111.33 606.25 110.08 606.80 109.00 C607.35 107.92 607.95 106.87 608.60 105.80 C609.25 104.73 610.03 103.67 610.70 102.60 C611.37 101.53 612.10 100.47 612.60 99.40 C613.10 98.33 613.37 97.28 613.70 96.20 C614.03 95.12 614.35 93.88 614.60 92.90 C614.85 91.92 615.00 91.03 615.20 90.30 C615.40 89.57 615.57 89.22 615.80 88.50 C616.03 87.78 616.30 86.92 616.60 86.00 C616.90 85.08 617.43 83.50 617.60 83.00 Z" fill="#53B400" stroke="#333" stroke-width="0.55"/>
<line x1="617.60" y1="18.30" x2="617.60" y2="152.50" stroke="#262626" stroke-width="0.75"/>
<rect x="615.20" y="107.70" width="4.80" height="15.50" fill="#53B400" stroke="#2e2e2e" stroke-width="0.6"/>
<line x1="615.20" y1="117.40" x2="620.00" y2="117.40" stroke="#111" stroke-width="0.8"/>
<circle cx="617.60" cy="114.20" r="1.05" fill="#111"/>
<path d="M649.50 88.00 C649.67 88.42 650.25 89.70 650.50 90.50 C650.75 91.30 650.80 92.05 651.00 92.80 C651.20 93.55 651.45 94.30 651.70 95.00 C651.95 95.70 652.05 96.30 652.50 97.00 C652.95 97.70 653.75 98.48 654.40 99.20 C655.05 99.92 655.70 100.58 656.40 101.30 C657.10 102.02 657.93 102.78 658.60 103.50 C659.27 104.22 659.87 104.90 660.40 105.60 C660.93 106.30 661.42 107.00 661.80 107.70 C662.18 108.40 662.43 108.97 662.70 109.80 C662.97 110.63 663.38 111.87 663.40 112.70 C663.42 113.53 663.12 114.10 662.80 114.80 C662.48 115.50 662.02 116.20 661.50 116.90 C660.98 117.60 660.37 118.28 659.70 119.00 C659.03 119.72 658.20 120.48 657.50 121.20 C656.80 121.92 656.13 122.58 655.50 123.30 C654.87 124.02 654.23 124.78 653.70 125.50 C653.17 126.22 652.72 126.90 652.30 127.60 C651.88 128.30 651.53 128.97 651.20 129.70 C650.87 130.43 650.58 131.28 650.30 132.00 C650.02 132.72 649.63 133.67 649.50 134.00 L649.50 134.00 C649.37 133.67 648.98 132.72 648.70 132.00 C648.42 131.28 648.13 130.43 647.80 129.70 C647.47 128.97 647.12 128.30 646.70 127.60 C646.28 126.90 645.83 126.22 645.30 125.50 C644.77 124.78 644.13 124.02 643.50 123.30 C642.87 122.58 642.20 121.92 641.50 121.20 C640.80 120.48 639.97 119.72 639.30 119.00 C638.63 118.28 638.02 117.60 637.50 116.90 C636.98 116.20 636.52 115.50 636.20 114.80 C635.88 114.10 635.58 113.53 635.60 112.70 C635.62 111.87 636.03 110.63 636.30 109.80 C636.57 108.97 636.82 108.40 637.20 107.70 C637.58 107.00 638.07 106.30 638.60 105.60 C639.13 104.90 639.73 104.22 640.40 103.50 C641.07 102.78 641.90 102.02 642.60 101.30 C643.30 100.58 643.95 99.92 644.60 99.20 C645.25 98.48 646.05 97.70 646.50 97.00 C646.95 96.30 647.05 95.70 647.30 95.00 C647.55 94.30 647.80 93.55 648.00 92.80 C648.20 92.05 648.25 91.30 648.50 90.50 C648.75 89.70 649.33 88.42 649.50 88.00 Z" fill="#00C094" stroke="#333" stroke-width="0.55"/>
<line x1="649.50" y1="65.40" x2="649.50" y2="134.90" stroke="#262626" stroke-width="0.75"/>
<rect x="647.10" y="106.00" width="4.80" height="12.40" fill="#00C094" stroke="#2e2e2e" stroke-width="0.6"/>
<line x1="647.10" y1="112.00" x2="651.90" y2="112.00" stroke="#111" stroke-width="0.8"/>
<circle cx="649.50" cy="111.80" r="1.05" fill="#111"/>
<path d="M682.10 70.00 C682.23 71.00 682.70 74.33 682.90 76.00 C683.10 77.67 683.17 78.50 683.30 80.00 C683.43 81.50 683.57 83.33 683.70 85.00 C683.83 86.67 683.95 88.47 684.10 90.00 C684.25 91.53 684.35 93.03 684.60 94.20 C684.85 95.37 685.18 96.17 685.60 97.00 C686.02 97.83 686.60 98.48 687.10 99.20 C687.60 99.92 688.08 100.58 688.60 101.30 C689.12 102.02 689.67 102.78 690.20 103.50 C690.73 104.22 691.30 104.90 691.80 105.60 C692.30 106.30 692.77 107.00 693.20 107.70 C693.63 108.40 694.03 109.08 694.40 109.80 C694.77 110.52 695.12 111.28 695.40 112.00 C695.68 112.72 696.02 113.38 696.10 114.10 C696.18 114.82 696.05 115.58 695.90 116.30 C695.75 117.02 695.55 117.70 695.20 118.40 C694.85 119.10 694.33 119.80 693.80 120.50 C693.27 121.20 692.60 121.88 692.00 122.60 C691.40 123.32 690.78 124.08 690.20 124.80 C689.62 125.52 689.02 126.20 688.50 126.90 C687.98 127.60 687.53 128.30 687.10 129.00 C686.67 129.70 686.30 130.03 685.90 131.10 C685.50 132.17 685.07 133.57 684.70 135.40 C684.33 137.23 684.13 140.00 683.70 142.10 C683.27 144.20 682.37 147.02 682.10 148.00 L682.10 148.00 C681.83 147.02 680.93 144.20 680.50 142.10 C680.07 140.00 679.87 137.23 679.50 135.40 C679.13 133.57 678.70 132.17 678.30 131.10 C677.90 130.03 677.53 129.70 677.10 129.00 C676.67 128.30 676.22 127.60 675.70 126.90 C675.18 126.20 674.58 125.52 674.00 124.80 C673.42 124.08 672.80 123.32 672.20 122.60 C671.60 121.88 670.93 121.20 670.40 120.50 C669.87 119.80 669.35 119.10 669.00 118.40 C668.65 117.70 668.45 117.02 668.30 116.30 C668.15 115.58 668.02 114.82 668.10 114.10 C668.18 113.38 668.52 112.72 668.80 112.00 C669.08 111.28 669.43 110.52 669.80 109.80 C670.17 109.08 670.57 108.40 671.00 107.70 C671.43 107.00 671.90 106.30 672.40 105.60 C672.90 104.90 673.47 104.22 674.00 103.50 C674.53 102.78 675.08 102.02 675.60 101.30 C676.12 100.58 676.60 99.92 677.10 99.20 C677.60 98.48 678.18 97.83 678.60 97.00 C679.02 96.17 679.35 95.37 679.60 94.20 C679.85 93.03 679.95 91.53 680.10 90.00 C680.25 88.47 680.37 86.67 680.50 85.00 C680.63 83.33 680.77 81.50 680.90 80.00 C681.03 78.50 681.10 77.67 681.30 76.00 C681.50 74.33 681.97 71.00 682.10 70.00 Z" fill="#A58AFF" stroke="#333" stroke-width="0.55"/>
<line x1="682.10" y1="36.40" x2="682.10" y2="147.90" stroke="#262626" stroke-width="0.75"/>
<rect x="679.70" y="106.00" width="4.80" height="16.50" fill="#A58AFF" stroke="#2e2e2e" stroke-width="0.6"/>
<line x1="679.70" y1="113.00" x2="684.50" y2="113.00" stroke="#111" stroke-width="0.8"/>
<circle cx="682.10" cy="113.50" r="1.05" fill="#111"/>
<path d="M711.50 104.00 C711.67 104.33 712.25 105.28 712.50 106.00 C712.75 106.72 712.83 107.70 713.00 108.30 C713.17 108.90 713.32 109.17 713.50 109.60 C713.68 110.03 713.67 110.35 714.10 110.90 C714.53 111.45 715.38 112.25 716.10 112.90 C716.82 113.55 717.65 114.15 718.40 114.80 C719.15 115.45 719.93 116.15 720.60 116.80 C721.27 117.45 721.85 118.05 722.40 118.70 C722.95 119.35 723.48 120.05 723.90 120.70 C724.32 121.35 724.63 121.87 724.90 122.60 C725.17 123.33 725.55 124.37 725.50 125.10 C725.45 125.83 725.07 126.35 724.60 127.00 C724.13 127.65 723.38 128.33 722.70 129.00 C722.02 129.67 721.25 130.35 720.50 131.00 C719.75 131.65 718.95 132.25 718.20 132.90 C717.45 133.55 716.68 134.25 716.00 134.90 C715.32 135.55 714.62 136.12 714.10 136.80 C713.58 137.48 713.33 138.13 712.90 139.00 C712.47 139.87 711.73 141.50 711.50 142.00 L711.50 142.00 C711.27 141.50 710.53 139.87 710.10 139.00 C709.67 138.13 709.42 137.48 708.90 136.80 C708.38 136.12 707.68 135.55 707.00 134.90 C706.32 134.25 705.55 133.55 704.80 132.90 C704.05 132.25 703.25 131.65 702.50 131.00 C701.75 130.35 700.98 129.67 700.30 129.00 C699.62 128.33 698.87 127.65 698.40 127.00 C697.93 126.35 697.55 125.83 697.50 125.10 C697.45 124.37 697.83 123.33 698.10 122.60 C698.37 121.87 698.68 121.35 699.10 120.70 C699.52 120.05 700.05 119.35 700.60 118.70 C701.15 118.05 701.73 117.45 702.40 116.80 C703.07 116.15 703.85 115.45 704.60 114.80 C705.35 114.15 706.18 113.55 706.90 112.90 C707.62 112.25 708.47 111.45 708.90 110.90 C709.33 110.35 709.32 110.03 709.50 109.60 C709.68 109.17 709.83 108.90 710.00 108.30 C710.17 107.70 710.25 106.72 710.50 106.00 C710.75 105.28 711.33 104.33 711.50 104.00 Z" fill="#00B6EB" stroke="#333" stroke-width="0.55"/>
<line x1="711.50" y1="94.10" x2="711.50" y2="156.90" stroke="#262626" stroke-width="0.75"/>
<rect x="709.10" y="118.90" width="4.80" height="10.50" fill="#00B6EB" stroke="#2e2e2e" stroke-width="0.6"/>
<line x1="709.10" y1="123.00" x2="713.90" y2="123.00" stroke="#111" stroke-width="0.8"/>
<circle cx="711.50" cy="123.60" r="1.05" fill="#111"/>
<path d="M744.20 115.00 C744.40 115.40 745.08 116.67 745.40 117.40 C745.72 118.13 745.83 118.75 746.10 119.40 C746.37 120.05 746.55 120.67 747.00 121.30 C747.45 121.93 748.15 122.57 748.80 123.20 C749.45 123.83 750.25 124.45 750.90 125.10 C751.55 125.75 752.15 126.45 752.70 127.10 C753.25 127.75 753.68 128.35 754.20 129.00 C754.72 129.65 755.33 130.35 755.80 131.00 C756.27 131.65 756.65 132.32 757.00 132.90 C757.35 133.48 757.68 133.97 757.90 134.50 C758.12 135.03 758.37 135.57 758.30 136.10 C758.23 136.63 757.95 137.15 757.50 137.70 C757.05 138.25 756.33 138.80 755.60 139.40 C754.87 140.00 753.98 140.67 753.10 141.30 C752.22 141.93 751.13 142.60 750.30 143.20 C749.47 143.80 748.75 144.35 748.10 144.90 C747.45 145.45 746.85 145.90 746.40 146.50 C745.95 147.10 745.77 147.83 745.40 148.50 C745.03 149.17 744.40 150.17 744.20 150.50 L744.20 150.50 C744.00 150.17 743.37 149.17 743.00 148.50 C742.63 147.83 742.45 147.10 742.00 146.50 C741.55 145.90 740.95 145.45 740.30 144.90 C739.65 144.35 738.93 143.80 738.10 143.20 C737.27 142.60 736.18 141.93 735.30 141.30 C734.42 140.67 733.53 140.00 732.80 139.40 C732.07 138.80 731.35 138.25 730.90 137.70 C730.45 137.15 730.17 136.63 730.10 136.10 C730.03 135.57 730.28 135.03 730.50 134.50 C730.72 133.97 731.05 133.48 731.40 132.90 C731.75 132.32 732.13 131.65 732.60 131.00 C733.07 130.35 733.68 129.65 734.20 129.00 C734.72 128.35 735.15 127.75 735.70 127.10 C736.25 126.45 736.85 125.75 737.50 125.10 C738.15 124.45 738.95 123.83 739.60 123.20 C740.25 122.57 740.95 121.93 741.40 121.30 C741.85 120.67 742.03 120.05 742.30 119.40 C742.57 118.75 742.68 118.13 743.00 117.40 C743.32 116.67 744.00 115.40 744.20 115.00 Z" fill="#FB61D7" stroke="#333" stroke-width="0.55"/>
<line x1="744.20" y1="106.00" x2="744.20" y2="154.20" stroke="#262626" stroke-width="0.75"/>
<rect x="741.80" y="128.80" width="4.80" height="9.90" fill="#FB61D7" stroke="#2e2e2e" stroke-width="0.6"/>
<line x1="741.80" y1="134.50" x2="746.60" y2="134.50" stroke="#111" stroke-width="0.8"/>
<circle cx="744.20" cy="134.20" r="1.05" fill="#111"/>
<rect x="535.60" y="11.30" width="226.80" height="153.50" fill="none" stroke="#303030" stroke-width="1.15"/>
<line x1="533.60" y1="29.70" x2="535.60" y2="29.70" stroke="#444" stroke-width="0.6"/>
<text class="t" x="532.40" y="29.70" text-anchor="end" dominant-baseline="central">2.0</text>
<line x1="533.60" y1="62.40" x2="535.60" y2="62.40" stroke="#444" stroke-width="0.6"/>
<text class="t" x="532.40" y="62.40" text-anchor="end" dominant-baseline="central">1.5</text>
<line x1="533.60" y1="95.40" x2="535.60" y2="95.40" stroke="#444" stroke-width="0.6"/>
<text class="t" x="532.40" y="95.40" text-anchor="end" dominant-baseline="central">1.0</text>
<line x1="533.60" y1="128.30" x2="535.60" y2="128.30" stroke="#444" stroke-width="0.6"/>
<text class="t" x="532.40" y="128.30" text-anchor="end" dominant-baseline="central">0.5</text>
<line x1="533.60" y1="161.30" x2="535.60" y2="161.30" stroke="#444" stroke-width="0.6"/>
<text class="t" x="532.40" y="161.30" text-anchor="end" dominant-baseline="central">0.0</text>
<line x1="554.50" y1="164.80" x2="554.50" y2="166.80" stroke="#444" stroke-width="0.6"/>
<text class="t" x="554.50" y="170.80" text-anchor="middle" dominant-baseline="central">2010DL</text>
<line x1="586.10" y1="164.80" x2="586.10" y2="166.80" stroke="#444" stroke-width="0.6"/>
<text class="t" x="586.10" y="170.80" text-anchor="middle" dominant-baseline="central">2011DL</text>
<line x1="617.70" y1="164.80" x2="617.70" y2="166.80" stroke="#444" stroke-width="0.6"/>
<text class="t" x="617.70" y="170.80" text-anchor="middle" dominant-baseline="central">2012DL</text>
<line x1="649.30" y1="164.80" x2="649.30" y2="166.80" stroke="#444" stroke-width="0.6"/>
<text class="t" x="649.30" y="170.80" text-anchor="middle" dominant-baseline="central">2013DL</text>
<line x1="680.90" y1="164.80" x2="680.90" y2="166.80" stroke="#444" stroke-width="0.6"/>
<text class="t" x="680.90" y="170.80" text-anchor="middle" dominant-baseline="central">2014DL</text>
<line x1="712.50" y1="164.80" x2="712.50" y2="166.80" stroke="#444" stroke-width="0.6"/>
<text class="t" x="712.50" y="170.80" text-anchor="middle" dominant-baseline="central">2013WH</text>
<line x1="744.10" y1="164.80" x2="744.10" y2="166.80" stroke="#444" stroke-width="0.6"/>
<text class="t" x="744.10" y="170.80" text-anchor="middle" dominant-baseline="central">2015WH</text>
<text class="ti" x="649.50" y="178.30" text-anchor="middle" dominant-baseline="central">Silique density</text>
<text x="518.40" y="75.00" text-anchor="middle" dominant-baseline="central" class="yl" transform="rotate(-90 518.40 75.00)">Phenotype value</text>
<path d="M45.10 220.20 C45.30 220.33 45.92 220.53 46.30 221.00 C46.68 221.47 47.13 222.08 47.40 223.00 C47.67 223.92 47.77 225.33 47.90 226.50 C48.03 227.67 48.07 228.63 48.20 230.00 C48.33 231.37 48.47 233.53 48.70 234.70 C48.93 235.87 49.25 236.30 49.60 237.00 C49.95 237.70 50.05 238.23 50.80 238.90 C51.55 239.57 52.90 240.32 54.10 241.00 C55.30 241.68 56.92 242.33 58.00 243.00 C59.08 243.67 59.87 244.32 60.60 245.00 C61.33 245.68 61.83 246.40 62.40 247.10 C62.97 247.80 63.57 248.50 64.00 249.20 C64.43 249.90 64.83 250.60 65.00 251.30 C65.17 252.00 65.10 252.72 65.00 253.40 C64.90 254.08 64.80 254.55 64.40 255.40 C64.00 256.25 63.32 257.47 62.60 258.50 C61.88 259.53 61.02 260.57 60.10 261.60 C59.18 262.63 58.05 263.67 57.10 264.70 C56.15 265.73 55.23 266.77 54.40 267.80 C53.57 268.83 52.82 269.87 52.10 270.90 C51.38 271.93 50.70 272.97 50.10 274.00 C49.50 275.03 48.97 276.07 48.50 277.10 C48.03 278.13 47.87 279.00 47.30 280.20 C46.73 281.40 45.47 283.62 45.10 284.30 L45.10 284.30 C44.73 283.62 43.47 281.40 42.90 280.20 C42.33 279.00 42.17 278.13 41.70 277.10 C41.23 276.07 40.70 275.03 40.10 274.00 C39.50 272.97 38.82 271.93 38.10 270.90 C37.38 269.87 36.63 268.83 35.80 267.80 C34.97 266.77 34.05 265.73 33.10 264.70 C32.15 263.67 31.02 262.63 30.10 261.60 C29.18 260.57 28.32 259.53 27.60 258.50 C26.88 257.47 26.20 256.25 25.80 255.40 C25.40 254.55 25.30 254.08 25.20 253.40 C25.10 252.72 25.03 252.00 25.20 251.30 C25.37 250.60 25.77 249.90 26.20 249.20 C26.63 248.50 27.23 247.80 27.80 247.10 C28.37 246.40 28.87 245.68 29.60 245.00 C30.33 244.32 31.12 243.67 32.20 243.00 C33.28 242.33 34.90 241.68 36.10 241.00 C37.30 240.32 38.65 239.57 39.40 238.90 C40.15 238.23 40.25 237.70 40.60 237.00 C40.95 236.30 41.27 235.87 41.50 234.70 C41.73 233.53 41.87 231.37 42.00 230.00 C42.13 228.63 42.17 227.67 42.30 226.50 C42.43 225.33 42.53 223.92 42.80 223.00 C43.07 222.08 43.52 221.47 43.90 221.00 C44.28 220.53 44.90 220.33 45.10 220.20 Z" fill="#F8766D" stroke="#333" stroke-width="0.55"/>
<line x1="45.10" y1="220.20" x2="45.10" y2="309.00" stroke="#262626" stroke-width="0.75"/>
<rect x="41.60" y="247.30" width="7.00" height="14.90" fill="#F8766D" stroke="#2e2e2e" stroke-width="0.6"/>
<line x1="41.60" y1="254.30" x2="48.60" y2="254.30" stroke="#111" stroke-width="0.8"/>
<circle cx="45.10" cy="254.30" r="1.05" fill="#111"/>
<path d="M89.50 235.30 C89.70 235.42 90.30 235.55 90.70 236.00 C91.10 236.45 91.52 237.23 91.90 238.00 C92.28 238.77 92.43 239.77 93.00 240.60 C93.57 241.43 94.53 242.23 95.30 243.00 C96.07 243.77 96.77 244.45 97.60 245.20 C98.43 245.95 99.40 246.72 100.30 247.50 C101.20 248.28 102.20 249.12 103.00 249.90 C103.80 250.68 104.45 251.43 105.10 252.20 C105.75 252.97 106.37 253.73 106.90 254.50 C107.43 255.27 107.92 256.03 108.30 256.80 C108.68 257.57 109.17 258.32 109.20 259.10 C109.23 259.88 108.82 260.72 108.50 261.50 C108.18 262.28 107.83 263.03 107.30 263.80 C106.77 264.57 106.03 265.33 105.30 266.10 C104.57 266.87 103.68 267.62 102.90 268.40 C102.12 269.18 101.32 270.02 100.60 270.80 C99.88 271.58 99.15 272.33 98.60 273.10 C98.05 273.87 97.70 274.63 97.30 275.40 C96.90 276.17 96.53 276.93 96.20 277.70 C95.87 278.47 95.60 279.22 95.30 280.00 C95.00 280.78 94.72 281.62 94.40 282.40 C94.08 283.18 93.73 283.93 93.40 284.70 C93.07 285.47 92.72 286.03 92.40 287.00 C92.08 287.97 91.73 289.33 91.50 290.50 C91.27 291.67 91.17 292.92 91.00 294.00 C90.83 295.08 90.75 296.00 90.50 297.00 C90.25 298.00 89.67 299.50 89.50 300.00 L89.50 300.00 C89.33 299.50 88.75 298.00 88.50 297.00 C88.25 296.00 88.17 295.08 88.00 294.00 C87.83 292.92 87.73 291.67 87.50 290.50 C87.27 289.33 86.92 287.97 86.60 287.00 C86.28 286.03 85.93 285.47 85.60 284.70 C85.27 283.93 84.92 283.18 84.60 282.40 C84.28 281.62 84.00 280.78 83.70 280.00 C83.40 279.22 83.13 278.47 82.80 277.70 C82.47 276.93 82.10 276.17 81.70 275.40 C81.30 274.63 80.95 273.87 80.40 273.10 C79.85 272.33 79.12 271.58 78.40 270.80 C77.68 270.02 76.88 269.18 76.10 268.40 C75.32 267.62 74.43 266.87 73.70 266.10 C72.97 265.33 72.23 264.57 71.70 263.80 C71.17 263.03 70.82 262.28 70.50 261.50 C70.18 260.72 69.77 259.88 69.80 259.10 C69.83 258.32 70.32 257.57 70.70 256.80 C71.08 256.03 71.57 255.27 72.10 254.50 C72.63 253.73 73.25 252.97 73.90 252.20 C74.55 251.43 75.20 250.68 76.00 249.90 C76.80 249.12 77.80 248.28 78.70 247.50 C79.60 246.72 80.57 245.95 81.40 245.20 C82.23 244.45 82.93 243.77 83.70 243.00 C84.47 242.23 85.43 241.43 86.00 240.60 C86.57 239.77 86.72 238.77 87.10 238.00 C87.48 237.23 87.90 236.45 88.30 236.00 C88.70 235.55 89.30 235.42 89.50 235.30 Z" fill="#A3A500" stroke="#333" stroke-width="0.55"/>
<line x1="89.50" y1="235.30" x2="89.50" y2="341.90" stroke="#262626" stroke-width="0.75"/>
<rect x="86.00" y="253.50" width="7.00" height="14.80" fill="#A3A500" stroke="#2e2e2e" stroke-width="0.6"/>
<line x1="86.00" y1="260.10" x2="93.00" y2="260.10" stroke="#111" stroke-width="0.8"/>
<circle cx="89.50" cy="262.10" r="1.05" fill="#111"/>
<path d="M134.20 221.40 C134.42 221.67 135.13 222.43 135.50 223.00 C135.87 223.57 136.13 224.20 136.40 224.80 C136.67 225.40 136.63 225.90 137.10 226.60 C137.57 227.30 138.52 228.22 139.20 229.00 C139.88 229.78 140.53 230.53 141.20 231.30 C141.87 232.07 142.53 232.83 143.20 233.60 C143.87 234.37 144.52 235.13 145.20 235.90 C145.88 236.67 146.62 237.42 147.30 238.20 C147.98 238.98 148.70 239.82 149.30 240.60 C149.90 241.38 150.42 242.13 150.90 242.90 C151.38 243.67 151.78 244.43 152.20 245.20 C152.62 245.97 153.07 246.72 153.40 247.50 C153.73 248.28 154.10 249.12 154.20 249.90 C154.30 250.68 154.13 251.43 154.00 252.20 C153.87 252.97 153.68 253.73 153.40 254.50 C153.12 255.27 152.70 256.03 152.30 256.80 C151.90 257.57 151.47 258.32 151.00 259.10 C150.53 259.88 150.02 260.72 149.50 261.50 C148.98 262.28 148.40 263.03 147.90 263.80 C147.40 264.57 146.98 265.33 146.50 266.10 C146.02 266.87 145.50 267.62 145.00 268.40 C144.50 269.18 144.00 270.02 143.50 270.80 C143.00 271.58 142.50 272.33 142.00 273.10 C141.50 273.87 140.98 274.63 140.50 275.40 C140.02 276.17 139.57 276.93 139.10 277.70 C138.63 278.47 138.13 279.22 137.70 280.00 C137.27 280.78 137.08 281.42 136.50 282.40 C135.92 283.38 134.58 285.32 134.20 285.90 L134.20 285.90 C133.82 285.32 132.48 283.38 131.90 282.40 C131.32 281.42 131.13 280.78 130.70 280.00 C130.27 279.22 129.77 278.47 129.30 277.70 C128.83 276.93 128.38 276.17 127.90 275.40 C127.42 274.63 126.90 273.87 126.40 273.10 C125.90 272.33 125.40 271.58 124.90 270.80 C124.40 270.02 123.90 269.18 123.40 268.40 C122.90 267.62 122.38 266.87 121.90 266.10 C121.42 265.33 121.00 264.57 120.50 263.80 C120.00 263.03 119.42 262.28 118.90 261.50 C118.38 260.72 117.87 259.88 117.40 259.10 C116.93 258.32 116.50 257.57 116.10 256.80 C115.70 256.03 115.28 255.27 115.00 254.50 C114.72 253.73 114.53 252.97 114.40 252.20 C114.27 251.43 114.10 250.68 114.20 249.90 C114.30 249.12 114.67 248.28 115.00 247.50 C115.33 246.72 115.78 245.97 116.20 245.20 C116.62 244.43 117.02 243.67 117.50 242.90 C117.98 242.13 118.50 241.38 119.10 240.60 C119.70 239.82 120.42 238.98 121.10 238.20 C121.78 237.42 122.52 236.67 123.20 235.90 C123.88 235.13 124.53 234.37 125.20 233.60 C125.87 232.83 126.53 232.07 127.20 231.30 C127.87 230.53 128.52 229.78 129.20 229.00 C129.88 228.22 130.83 227.30 131.30 226.60 C131.77 225.90 131.73 225.40 132.00 224.80 C132.27 224.20 132.53 223.57 132.90 223.00 C133.27 222.43 133.98 221.67 134.20 221.40 Z" fill="#00BF7D" stroke="#333" stroke-width="0.55"/>
<line x1="134.20" y1="221.40" x2="134.20" y2="287.00" stroke="#262626" stroke-width="0.75"/>
<rect x="130.70" y="244.20" width="7.00" height="16.90" fill="#00BF7D" stroke="#2e2e2e" stroke-width="0.6"/>
<line x1="130.70" y1="251.80" x2="137.70" y2="251.80" stroke="#111" stroke-width="0.8"/>
<circle cx="134.20" cy="251.80" r="1.05" fill="#111"/>
<path d="M178.80 271.70 C179.05 271.92 179.73 272.35 180.30 273.00 C180.87 273.65 181.65 274.53 182.20 275.60 C182.75 276.67 183.12 278.42 183.60 279.40 C184.08 280.38 184.50 280.85 185.10 281.50 C185.70 282.15 186.37 282.67 187.20 283.30 C188.03 283.93 189.08 284.65 190.10 285.30 C191.12 285.95 192.30 286.50 193.30 287.20 C194.30 287.90 195.28 288.70 196.10 289.50 C196.92 290.30 198.12 291.25 198.20 292.00 C198.28 292.75 197.25 293.35 196.60 294.00 C195.95 294.65 195.22 295.27 194.30 295.90 C193.38 296.53 192.15 297.15 191.10 297.80 C190.05 298.45 188.97 299.13 188.00 299.80 C187.03 300.47 186.07 301.15 185.30 301.80 C184.53 302.45 183.97 302.58 183.40 303.70 C182.83 304.82 182.33 306.73 181.90 308.50 C181.47 310.27 181.07 312.37 180.80 314.30 C180.53 316.23 180.50 318.48 180.30 320.10 C180.10 321.72 179.85 323.02 179.60 324.00 C179.35 324.98 178.93 325.67 178.80 326.00 L178.80 326.00 C178.67 325.67 178.25 324.98 178.00 324.00 C177.75 323.02 177.50 321.72 177.30 320.10 C177.10 318.48 177.07 316.23 176.80 314.30 C176.53 312.37 176.13 310.27 175.70 308.50 C175.27 306.73 174.77 304.82 174.20 303.70 C173.63 302.58 173.07 302.45 172.30 301.80 C171.53 301.15 170.57 300.47 169.60 299.80 C168.63 299.13 167.55 298.45 166.50 297.80 C165.45 297.15 164.22 296.53 163.30 295.90 C162.38 295.27 161.65 294.65 161.00 294.00 C160.35 293.35 159.32 292.75 159.40 292.00 C159.48 291.25 160.68 290.30 161.50 289.50 C162.32 288.70 163.30 287.90 164.30 287.20 C165.30 286.50 166.48 285.95 167.50 285.30 C168.52 284.65 169.57 283.93 170.40 283.30 C171.23 282.67 171.90 282.15 172.50 281.50 C173.10 280.85 173.52 280.38 174.00 279.40 C174.48 278.42 174.85 276.67 175.40 275.60 C175.95 274.53 176.73 273.65 177.30 273.00 C177.87 272.35 178.55 271.92 178.80 271.70 Z" fill="#00B0F6" stroke="#333" stroke-width="0.55"/>
<line x1="178.80" y1="266.30" x2="178.80" y2="330.80" stroke="#262626" stroke-width="0.75"/>
<rect x="175.30" y="287.20" width="7.00" height="11.20" fill="#00B0F6" stroke="#2e2e2e" stroke-width="0.6"/>
<line x1="175.30" y1="293.00" x2="182.30" y2="293.00" stroke="#111" stroke-width="0.8"/>
<circle cx="178.80" cy="293.00" r="1.05" fill="#111"/>
<path d="M220.40 213.00 C220.57 213.40 221.13 214.23 221.40 215.40 C221.67 216.57 221.83 218.57 222.00 220.00 C222.17 221.43 222.27 222.83 222.40 224.00 C222.53 225.17 222.65 226.20 222.80 227.00 C222.95 227.80 223.08 228.17 223.30 228.80 C223.52 229.43 223.70 230.15 224.10 230.80 C224.50 231.45 225.15 232.05 225.70 232.70 C226.25 233.35 226.87 234.05 227.40 234.70 C227.93 235.35 228.43 235.97 228.90 236.60 C229.37 237.23 229.65 237.75 230.20 238.50 C230.75 239.25 231.57 240.23 232.20 241.10 C232.83 241.97 233.43 242.83 234.00 243.70 C234.57 244.57 235.08 245.43 235.60 246.30 C236.12 247.17 236.63 248.03 237.10 248.90 C237.57 249.77 237.97 250.65 238.40 251.50 C238.83 252.35 239.40 253.25 239.70 254.00 C240.00 254.75 240.32 255.25 240.20 256.00 C240.08 256.75 239.42 257.77 239.00 258.50 C238.58 259.23 238.18 259.77 237.70 260.40 C237.22 261.03 236.72 261.55 236.10 262.30 C235.48 263.05 234.68 264.03 234.00 264.90 C233.32 265.77 232.63 266.53 232.00 267.50 C231.37 268.47 230.80 269.63 230.20 270.70 C229.60 271.77 229.00 272.82 228.40 273.90 C227.80 274.98 227.20 276.12 226.60 277.20 C226.00 278.28 225.33 279.43 224.80 280.40 C224.27 281.37 223.80 282.15 223.40 283.00 C223.00 283.85 222.63 284.33 222.40 285.50 C222.17 286.67 222.10 288.42 222.00 290.00 C221.90 291.58 222.07 293.18 221.80 295.00 C221.53 296.82 220.63 299.92 220.40 300.90 L220.40 300.90 C220.17 299.92 219.27 296.82 219.00 295.00 C218.73 293.18 218.90 291.58 218.80 290.00 C218.70 288.42 218.63 286.67 218.40 285.50 C218.17 284.33 217.80 283.85 217.40 283.00 C217.00 282.15 216.53 281.37 216.00 280.40 C215.47 279.43 214.80 278.28 214.20 277.20 C213.60 276.12 213.00 274.98 212.40 273.90 C211.80 272.82 211.20 271.77 210.60 270.70 C210.00 269.63 209.43 268.47 208.80 267.50 C208.17 266.53 207.48 265.77 206.80 264.90 C206.12 264.03 205.32 263.05 204.70 262.30 C204.08 261.55 203.58 261.03 203.10 260.40 C202.62 259.77 202.22 259.23 201.80 258.50 C201.38 257.77 200.72 256.75 200.60 256.00 C200.48 255.25 200.80 254.75 201.10 254.00 C201.40 253.25 201.97 252.35 202.40 251.50 C202.83 250.65 203.23 249.77 203.70 248.90 C204.17 248.03 204.68 247.17 205.20 246.30 C205.72 245.43 206.23 244.57 206.80 243.70 C207.37 242.83 207.97 241.97 208.60 241.10 C209.23 240.23 210.05 239.25 210.60 238.50 C211.15 237.75 211.43 237.23 211.90 236.60 C212.37 235.97 212.87 235.35 213.40 234.70 C213.93 234.05 214.55 233.35 215.10 232.70 C215.65 232.05 216.30 231.45 216.70 230.80 C217.10 230.15 217.28 229.43 217.50 228.80 C217.72 228.17 217.85 227.80 218.00 227.00 C218.15 226.20 218.27 225.17 218.40 224.00 C218.53 222.83 218.63 221.43 218.80 220.00 C218.97 218.57 219.13 216.57 219.40 215.40 C219.67 214.23 220.23 213.40 220.40 213.00 Z" fill="#E76BF3" stroke="#333" stroke-width="0.55"/>
<line x1="220.40" y1="202.30" x2="220.40" y2="300.90" stroke="#262626" stroke-width="0.75"/>
<rect x="216.90" y="247.90" width="7.00" height="18.80" fill="#E76BF3" stroke="#2e2e2e" stroke-width="0.6"/>
<line x1="216.90" y1="256.80" x2="223.90" y2="256.80" stroke="#111" stroke-width="0.8"/>
<circle cx="220.40" cy="256.80" r="1.05" fill="#111"/>
<rect x="18.50" y="195.50" width="227.90" height="153.40" fill="none" stroke="#303030" stroke-width="1.15"/>
<line x1="16.50" y1="236.00" x2="18.50" y2="236.00" stroke="#444" stroke-width="0.6"/>
<text class="t" x="15.30" y="236.00" text-anchor="end" dominant-baseline="central">6</text>
<line x1="16.50" y1="281.70" x2="18.50" y2="281.70" stroke="#444" stroke-width="0.6"/>
<text class="t" x="15.30" y="281.70" text-anchor="end" dominant-baseline="central">4</text>
<line x1="16.50" y1="327.30" x2="18.50" y2="327.30" stroke="#444" stroke-width="0.6"/>
<text class="t" x="15.30" y="327.30" text-anchor="end" dominant-baseline="central">2</text>
<line x1="16.50" y1="347.20" x2="18.50" y2="347.20" stroke="#444" stroke-width="0.6"/>
<text class="t" x="15.30" y="347.20" text-anchor="end" dominant-baseline="central">0</text>
<line x1="45.30" y1="348.90" x2="45.30" y2="350.90" stroke="#444" stroke-width="0.6"/>
<text class="t" x="45.30" y="355.10" text-anchor="middle" dominant-baseline="central">2010DL</text>
<line x1="89.50" y1="348.90" x2="89.50" y2="350.90" stroke="#444" stroke-width="0.6"/>
<text class="t" x="89.50" y="355.10" text-anchor="middle" dominant-baseline="central">2011DL</text>
<line x1="134.20" y1="348.90" x2="134.20" y2="350.90" stroke="#444" stroke-width="0.6"/>
<text class="t" x="134.20" y="355.10" text-anchor="middle" dominant-baseline="central">2012DL</text>
<line x1="178.60" y1="348.90" x2="178.60" y2="350.90" stroke="#444" stroke-width="0.6"/>
<text class="t" x="178.60" y="355.10" text-anchor="middle" dominant-baseline="central">2013DL</text>
<line x1="220.40" y1="348.90" x2="220.40" y2="350.90" stroke="#444" stroke-width="0.6"/>
<text class="t" x="220.40" y="355.10" text-anchor="middle" dominant-baseline="central">2014DL</text>
<text class="ti" x="132.40" y="363.20" text-anchor="middle" dominant-baseline="central">Silique width</text>
<text x="7.20" y="261.80" text-anchor="middle" dominant-baseline="central" class="yl" transform="rotate(-90 7.20 261.80)">Phenotype value</text>
<path d="M304.00 265.00 C304.25 265.10 305.08 265.27 305.50 265.60 C305.92 265.93 306.28 266.38 306.50 267.00 C306.72 267.62 306.45 268.53 306.80 269.30 C307.15 270.07 307.87 270.82 308.60 271.60 C309.33 272.38 310.25 273.22 311.20 274.00 C312.15 274.78 313.23 275.53 314.30 276.30 C315.37 277.07 316.55 277.82 317.60 278.60 C318.65 279.38 319.77 280.22 320.60 281.00 C321.43 281.78 322.05 282.53 322.60 283.30 C323.15 284.07 323.87 284.90 323.90 285.60 C323.93 286.30 323.32 286.85 322.80 287.50 C322.28 288.15 321.73 288.78 320.80 289.50 C319.87 290.22 318.45 291.03 317.20 291.80 C315.95 292.57 314.43 293.33 313.30 294.10 C312.17 294.87 311.25 295.62 310.40 296.40 C309.55 297.18 308.80 298.02 308.20 298.80 C307.60 299.58 307.20 300.32 306.80 301.10 C306.40 301.88 306.10 302.68 305.80 303.50 C305.50 304.32 305.30 305.33 305.00 306.00 C304.70 306.67 304.17 307.25 304.00 307.50 L304.00 307.50 C303.83 307.25 303.30 306.67 303.00 306.00 C302.70 305.33 302.50 304.32 302.20 303.50 C301.90 302.68 301.60 301.88 301.20 301.10 C300.80 300.32 300.40 299.58 299.80 298.80 C299.20 298.02 298.45 297.18 297.60 296.40 C296.75 295.62 295.83 294.87 294.70 294.10 C293.57 293.33 292.05 292.57 290.80 291.80 C289.55 291.03 288.13 290.22 287.20 289.50 C286.27 288.78 285.72 288.15 285.20 287.50 C284.68 286.85 284.07 286.30 284.10 285.60 C284.13 284.90 284.85 284.07 285.40 283.30 C285.95 282.53 286.57 281.78 287.40 281.00 C288.23 280.22 289.35 279.38 290.40 278.60 C291.45 277.82 292.63 277.07 293.70 276.30 C294.77 275.53 295.85 274.78 296.80 274.00 C297.75 273.22 298.67 272.38 299.40 271.60 C300.13 270.82 300.85 270.07 301.20 269.30 C301.55 268.53 301.28 267.62 301.50 267.00 C301.72 266.38 302.08 265.93 302.50 265.60 C302.92 265.27 303.75 265.10 304.00 265.00 Z" fill="#F8766D" stroke="#333" stroke-width="0.55"/>
<line x1="304.00" y1="265.00" x2="304.00" y2="315.30" stroke="#262626" stroke-width="0.75"/>
<rect x="300.60" y="280.60" width="6.80" height="9.70" fill="#F8766D" stroke="#2e2e2e" stroke-width="0.6"/>
<line x1="300.60" y1="285.50" x2="307.40" y2="285.50" stroke="#111" stroke-width="0.8"/>
<circle cx="304.00" cy="285.50" r="1.05" fill="#111"/>
<path d="M348.40 271.80 C348.60 272.08 349.23 272.92 349.60 273.50 C349.97 274.08 350.28 274.70 350.60 275.30 C350.92 275.90 351.00 276.42 351.50 277.10 C352.00 277.78 352.83 278.63 353.60 279.40 C354.37 280.17 355.13 280.93 356.10 281.70 C357.07 282.47 358.25 283.22 359.40 284.00 C360.55 284.78 361.90 285.62 363.00 286.40 C364.10 287.18 365.10 287.93 366.00 288.70 C366.90 289.47 368.58 290.23 368.40 291.00 C368.22 291.77 366.15 292.52 364.90 293.30 C363.65 294.08 362.18 294.92 360.90 295.70 C359.62 296.48 358.30 297.23 357.20 298.00 C356.10 298.77 355.08 299.53 354.30 300.30 C353.52 301.07 353.00 301.82 352.50 302.60 C352.00 303.38 351.62 304.22 351.30 305.00 C350.98 305.78 350.80 306.52 350.60 307.30 C350.40 308.08 350.27 308.92 350.10 309.70 C349.93 310.48 349.88 311.12 349.60 312.00 C349.32 312.88 348.60 314.50 348.40 315.00 L348.40 315.00 C348.20 314.50 347.48 312.88 347.20 312.00 C346.92 311.12 346.87 310.48 346.70 309.70 C346.53 308.92 346.40 308.08 346.20 307.30 C346.00 306.52 345.82 305.78 345.50 305.00 C345.18 304.22 344.80 303.38 344.30 302.60 C343.80 301.82 343.28 301.07 342.50 300.30 C341.72 299.53 340.70 298.77 339.60 298.00 C338.50 297.23 337.18 296.48 335.90 295.70 C334.62 294.92 333.15 294.08 331.90 293.30 C330.65 292.52 328.58 291.77 328.40 291.00 C328.22 290.23 329.90 289.47 330.80 288.70 C331.70 287.93 332.70 287.18 333.80 286.40 C334.90 285.62 336.25 284.78 337.40 284.00 C338.55 283.22 339.73 282.47 340.70 281.70 C341.67 280.93 342.43 280.17 343.20 279.40 C343.97 278.63 344.80 277.78 345.30 277.10 C345.80 276.42 345.88 275.90 346.20 275.30 C346.52 274.70 346.83 274.08 347.20 273.50 C347.57 272.92 348.20 272.08 348.40 271.80 Z" fill="#A3A500" stroke="#333" stroke-width="0.55"/>
<line x1="348.40" y1="271.80" x2="348.40" y2="342.30" stroke="#262626" stroke-width="0.75"/>
<rect x="345.00" y="287.00" width="6.80" height="9.50" fill="#A3A500" stroke="#2e2e2e" stroke-width="0.6"/>
<line x1="345.00" y1="292.00" x2="351.80" y2="292.00" stroke="#111" stroke-width="0.8"/>
<circle cx="348.40" cy="292.30" r="1.05" fill="#111"/>
<path d="M393.00 244.00 C393.20 244.43 393.83 245.20 394.20 246.60 C394.57 248.00 394.75 250.47 395.20 252.40 C395.65 254.33 396.27 256.77 396.90 258.20 C397.53 259.63 398.20 260.03 399.00 261.00 C399.80 261.97 400.78 263.00 401.70 264.00 C402.62 265.00 403.62 266.03 404.50 267.00 C405.38 267.97 406.22 268.87 407.00 269.80 C407.78 270.73 408.58 271.63 409.20 272.60 C409.82 273.57 410.20 274.62 410.70 275.60 C411.20 276.58 411.83 277.53 412.20 278.50 C412.57 279.47 412.87 280.42 412.90 281.40 C412.93 282.38 412.73 283.42 412.40 284.40 C412.07 285.38 411.63 286.33 410.90 287.30 C410.17 288.27 409.05 289.23 408.00 290.20 C406.95 291.17 405.88 291.98 404.60 293.10 C403.32 294.22 401.43 295.87 400.30 296.90 C399.17 297.93 398.37 298.72 397.80 299.30 C397.23 299.88 397.05 300.22 396.90 300.40 L389.10 300.40 C388.95 300.22 388.77 299.88 388.20 299.30 C387.63 298.72 386.83 297.93 385.70 296.90 C384.57 295.87 382.68 294.22 381.40 293.10 C380.12 291.98 379.05 291.17 378.00 290.20 C376.95 289.23 375.83 288.27 375.10 287.30 C374.37 286.33 373.93 285.38 373.60 284.40 C373.27 283.42 373.07 282.38 373.10 281.40 C373.13 280.42 373.43 279.47 373.80 278.50 C374.17 277.53 374.80 276.58 375.30 275.60 C375.80 274.62 376.18 273.57 376.80 272.60 C377.42 271.63 378.22 270.73 379.00 269.80 C379.78 268.87 380.62 267.97 381.50 267.00 C382.38 266.03 383.38 265.00 384.30 264.00 C385.22 263.00 386.20 261.97 387.00 261.00 C387.80 260.03 388.47 259.63 389.10 258.20 C389.73 256.77 390.35 254.33 390.80 252.40 C391.25 250.47 391.43 248.00 391.80 246.60 C392.17 245.20 392.80 244.43 393.00 244.00 Z" fill="#00BF7D" stroke="#333" stroke-width="0.55"/>
<line x1="393.00" y1="203.00" x2="393.00" y2="300.40" stroke="#262626" stroke-width="0.75"/>
<rect x="389.60" y="273.70" width="6.80" height="14.50" fill="#00BF7D" stroke="#2e2e2e" stroke-width="0.6"/>
<line x1="389.60" y1="282.00" x2="396.40" y2="282.00" stroke="#111" stroke-width="0.8"/>
<circle cx="393.00" cy="279.50" r="1.05" fill="#111"/>
<path d="M437.40 223.40 C437.60 223.53 438.23 223.60 438.60 224.20 C438.97 224.80 439.30 226.03 439.60 227.00 C439.90 227.97 440.17 229.08 440.40 230.00 C440.63 230.92 440.47 231.53 441.00 232.50 C441.53 233.47 442.72 234.70 443.60 235.80 C444.48 236.90 445.38 238.00 446.30 239.10 C447.22 240.20 448.20 241.30 449.10 242.40 C450.00 243.50 450.85 244.60 451.70 245.70 C452.55 246.80 453.45 247.98 454.20 249.00 C454.95 250.02 455.68 250.88 456.20 251.80 C456.72 252.72 457.23 253.72 457.30 254.50 C457.37 255.28 457.03 255.77 456.60 256.50 C456.17 257.23 455.35 258.15 454.70 258.90 C454.05 259.65 453.38 260.28 452.70 261.00 C452.02 261.72 451.32 262.47 450.60 263.20 C449.88 263.93 449.07 264.67 448.40 265.40 C447.73 266.13 447.13 266.87 446.60 267.60 C446.07 268.33 445.63 269.07 445.20 269.80 C444.77 270.53 444.52 270.90 444.00 272.00 C443.48 273.10 442.67 274.93 442.10 276.40 C441.53 277.87 441.02 279.33 440.60 280.80 C440.18 282.27 439.87 283.73 439.60 285.20 C439.33 286.67 439.17 287.67 439.00 289.60 C438.83 291.53 438.73 294.23 438.60 296.80 C438.47 299.37 438.40 302.63 438.20 305.00 C438.00 307.37 437.53 310.00 437.40 311.00 L437.40 311.00 C437.27 310.00 436.80 307.37 436.60 305.00 C436.40 302.63 436.33 299.37 436.20 296.80 C436.07 294.23 435.97 291.53 435.80 289.60 C435.63 287.67 435.47 286.67 435.20 285.20 C434.93 283.73 434.62 282.27 434.20 280.80 C433.78 279.33 433.27 277.87 432.70 276.40 C432.13 274.93 431.32 273.10 430.80 272.00 C430.28 270.90 430.03 270.53 429.60 269.80 C429.17 269.07 428.73 268.33 428.20 267.60 C427.67 266.87 427.07 266.13 426.40 265.40 C425.73 264.67 424.92 263.93 424.20 263.20 C423.48 262.47 422.78 261.72 422.10 261.00 C421.42 260.28 420.75 259.65 420.10 258.90 C419.45 258.15 418.63 257.23 418.20 256.50 C417.77 255.77 417.43 255.28 417.50 254.50 C417.57 253.72 418.08 252.72 418.60 251.80 C419.12 250.88 419.85 250.02 420.60 249.00 C421.35 247.98 422.25 246.80 423.10 245.70 C423.95 244.60 424.80 243.50 425.70 242.40 C426.60 241.30 427.58 240.20 428.50 239.10 C429.42 238.00 430.32 236.90 431.20 235.80 C432.08 234.70 433.27 233.47 433.80 232.50 C434.33 231.53 434.17 230.92 434.40 230.00 C434.63 229.08 434.90 227.97 435.20 227.00 C435.50 226.03 435.83 224.80 436.20 224.20 C436.57 223.60 437.20 223.53 437.40 223.40 Z" fill="#00B0F6" stroke="#333" stroke-width="0.55"/>
<line x1="437.40" y1="223.40" x2="437.40" y2="315.30" stroke="#262626" stroke-width="0.75"/>
<rect x="434.00" y="249.00" width="6.80" height="17.00" fill="#00B0F6" stroke="#2e2e2e" stroke-width="0.6"/>
<line x1="434.00" y1="257.50" x2="440.80" y2="257.50" stroke="#111" stroke-width="0.8"/>
<circle cx="437.40" cy="257.50" r="1.05" fill="#111"/>
<path d="M481.10 262.20 C481.32 262.25 482.13 262.03 482.40 262.50 C482.67 262.97 482.62 264.18 482.70 265.00 C482.78 265.82 482.67 266.60 482.90 267.40 C483.13 268.20 483.62 269.02 484.10 269.80 C484.58 270.58 485.13 271.33 485.80 272.10 C486.47 272.87 487.32 273.63 488.10 274.40 C488.88 275.17 489.63 275.93 490.50 276.70 C491.37 277.47 492.40 278.22 493.30 279.00 C494.20 279.78 495.10 280.62 495.90 281.40 C496.70 282.18 497.43 282.93 498.10 283.70 C498.77 284.47 499.43 285.23 499.90 286.00 C500.37 286.77 501.07 287.60 500.90 288.30 C500.73 289.00 499.80 289.55 498.90 290.20 C498.00 290.85 496.72 291.48 495.50 292.20 C494.28 292.92 492.80 293.72 491.60 294.50 C490.40 295.28 489.15 296.12 488.30 296.90 C487.45 297.68 487.00 298.43 486.50 299.20 C486.00 299.97 485.65 300.73 485.30 301.50 C484.95 302.27 484.65 303.02 484.40 303.80 C484.15 304.58 484.00 305.42 483.80 306.20 C483.60 306.98 483.65 307.97 483.20 308.50 C482.75 309.03 481.45 309.25 481.10 309.40 L481.10 309.40 C480.75 309.25 479.45 309.03 479.00 308.50 C478.55 307.97 478.60 306.98 478.40 306.20 C478.20 305.42 478.05 304.58 477.80 303.80 C477.55 303.02 477.25 302.27 476.90 301.50 C476.55 300.73 476.20 299.97 475.70 299.20 C475.20 298.43 474.75 297.68 473.90 296.90 C473.05 296.12 471.80 295.28 470.60 294.50 C469.40 293.72 467.92 292.92 466.70 292.20 C465.48 291.48 464.20 290.85 463.30 290.20 C462.40 289.55 461.47 289.00 461.30 288.30 C461.13 287.60 461.83 286.77 462.30 286.00 C462.77 285.23 463.43 284.47 464.10 283.70 C464.77 282.93 465.50 282.18 466.30 281.40 C467.10 280.62 468.00 279.78 468.90 279.00 C469.80 278.22 470.83 277.47 471.70 276.70 C472.57 275.93 473.32 275.17 474.10 274.40 C474.88 273.63 475.73 272.87 476.40 272.10 C477.07 271.33 477.62 270.58 478.10 269.80 C478.58 269.02 479.07 268.20 479.30 267.40 C479.53 266.60 479.42 265.82 479.50 265.00 C479.58 264.18 479.53 262.97 479.80 262.50 C480.07 262.03 480.88 262.25 481.10 262.20 Z" fill="#E76BF3" stroke="#333" stroke-width="0.55"/>
<line x1="481.10" y1="262.20" x2="481.10" y2="309.60" stroke="#262626" stroke-width="0.75"/>
<rect x="477.70" y="283.20" width="6.80" height="11.30" fill="#E76BF3" stroke="#2e2e2e" stroke-width="0.6"/>
<line x1="477.70" y1="288.30" x2="484.50" y2="288.30" stroke="#111" stroke-width="0.8"/>
<circle cx="481.10" cy="288.30" r="1.05" fill="#111"/>
<rect x="277.30" y="195.50" width="229.20" height="154.10" fill="none" stroke="#303030" stroke-width="1.15"/>
<line x1="275.30" y1="229.50" x2="277.30" y2="229.50" stroke="#444" stroke-width="0.6"/>
<text class="t" x="274.10" y="229.50" text-anchor="end" dominant-baseline="central">6</text>
<line x1="275.30" y1="276.90" x2="277.30" y2="276.90" stroke="#444" stroke-width="0.6"/>
<text class="t" x="274.10" y="276.90" text-anchor="end" dominant-baseline="central">4</text>
<line x1="275.30" y1="323.80" x2="277.30" y2="323.80" stroke="#444" stroke-width="0.6"/>
<text class="t" x="274.10" y="323.80" text-anchor="end" dominant-baseline="central">2</text>
<line x1="275.30" y1="347.50" x2="277.30" y2="347.50" stroke="#444" stroke-width="0.6"/>
<text class="t" x="274.10" y="347.50" text-anchor="end" dominant-baseline="central">0</text>
<line x1="304.20" y1="349.60" x2="304.20" y2="351.60" stroke="#444" stroke-width="0.6"/>
<text class="t" x="304.20" y="355.90" text-anchor="middle" dominant-baseline="central">2010DL</text>
<line x1="348.50" y1="349.60" x2="348.50" y2="351.60" stroke="#444" stroke-width="0.6"/>
<text class="t" x="348.50" y="355.90" text-anchor="middle" dominant-baseline="central">2011DL</text>
<line x1="393.00" y1="349.60" x2="393.00" y2="351.60" stroke="#444" stroke-width="0.6"/>
<text class="t" x="393.00" y="355.90" text-anchor="middle" dominant-baseline="central">2012DL</text>
<line x1="437.30" y1="349.60" x2="437.30" y2="351.60" stroke="#444" stroke-width="0.6"/>
<text class="t" x="437.30" y="355.90" text-anchor="middle" dominant-baseline="central">2013DL</text>
<line x1="481.30" y1="349.60" x2="481.30" y2="351.60" stroke="#444" stroke-width="0.6"/>
<text class="t" x="481.30" y="355.90" text-anchor="middle" dominant-baseline="central">2014DL</text>
<text class="ti" x="393.80" y="365.30" text-anchor="middle" dominant-baseline="central">Silique thickness</text>
<text x="261.20" y="262.80" text-anchor="middle" dominant-baseline="central" class="yl" transform="rotate(-90 261.20 262.80)">Phenotype value</text>
<path d="M562.10 232.00 C562.23 232.60 562.68 234.35 562.90 235.60 C563.12 236.85 563.27 238.38 563.40 239.50 C563.53 240.62 563.48 240.97 563.70 242.30 C563.92 243.63 564.33 245.78 564.70 247.50 C565.07 249.22 565.62 251.35 565.90 252.60 C566.18 253.85 566.23 254.13 566.40 255.00 C566.57 255.87 566.70 256.72 566.90 257.80 C567.10 258.88 567.32 260.55 567.60 261.50 C567.88 262.45 568.15 262.87 568.60 263.50 C569.05 264.13 569.65 264.68 570.30 265.30 C570.95 265.92 571.75 266.55 572.50 267.20 C573.25 267.85 574.02 268.43 574.80 269.20 C575.58 269.97 576.52 270.93 577.20 271.80 C577.88 272.67 578.38 273.53 578.90 274.40 C579.42 275.27 579.93 276.15 580.30 277.00 C580.67 277.85 580.98 278.67 581.10 279.50 C581.22 280.33 581.07 281.13 581.00 282.00 C580.93 282.87 580.73 283.83 580.70 284.70 C580.67 285.57 580.77 286.35 580.80 287.20 C580.83 288.05 580.98 288.93 580.90 289.80 C580.82 290.67 580.58 291.53 580.30 292.40 C580.02 293.27 579.60 294.13 579.20 295.00 C578.80 295.87 578.42 296.73 577.90 297.60 C577.38 298.47 576.83 299.13 576.10 300.20 C575.37 301.27 574.23 302.98 573.50 304.00 C572.77 305.02 572.50 305.28 571.70 306.30 C570.90 307.32 569.60 308.83 568.70 310.10 C567.80 311.37 567.03 312.58 566.30 313.90 C565.57 315.22 565.00 316.52 564.30 318.00 C563.60 319.48 562.47 322.00 562.10 322.80 L562.10 322.80 C561.73 322.00 560.60 319.48 559.90 318.00 C559.20 316.52 558.63 315.22 557.90 313.90 C557.17 312.58 556.40 311.37 555.50 310.10 C554.60 308.83 553.30 307.32 552.50 306.30 C551.70 305.28 551.43 305.02 550.70 304.00 C549.97 302.98 548.83 301.27 548.10 300.20 C547.37 299.13 546.82 298.47 546.30 297.60 C545.78 296.73 545.40 295.87 545.00 295.00 C544.60 294.13 544.18 293.27 543.90 292.40 C543.62 291.53 543.38 290.67 543.30 289.80 C543.22 288.93 543.37 288.05 543.40 287.20 C543.43 286.35 543.53 285.57 543.50 284.70 C543.47 283.83 543.27 282.87 543.20 282.00 C543.13 281.13 542.98 280.33 543.10 279.50 C543.22 278.67 543.53 277.85 543.90 277.00 C544.27 276.15 544.78 275.27 545.30 274.40 C545.82 273.53 546.32 272.67 547.00 271.80 C547.68 270.93 548.62 269.97 549.40 269.20 C550.18 268.43 550.95 267.85 551.70 267.20 C552.45 266.55 553.25 265.92 553.90 265.30 C554.55 264.68 555.15 264.13 555.60 263.50 C556.05 262.87 556.32 262.45 556.60 261.50 C556.88 260.55 557.10 258.88 557.30 257.80 C557.50 256.72 557.63 255.87 557.80 255.00 C557.97 254.13 558.02 253.85 558.30 252.60 C558.58 251.35 559.13 249.22 559.50 247.50 C559.87 245.78 560.28 243.63 560.50 242.30 C560.72 240.97 560.67 240.62 560.80 239.50 C560.93 238.38 561.08 236.85 561.30 235.60 C561.52 234.35 561.97 232.60 562.10 232.00 Z" fill="#F8766D" stroke="#333" stroke-width="0.55"/>
<line x1="562.10" y1="203.60" x2="562.10" y2="322.80" stroke="#262626" stroke-width="0.75"/>
<rect x="558.60" y="275.30" width="7.00" height="18.00" fill="#F8766D" stroke="#2e2e2e" stroke-width="0.6"/>
<line x1="558.60" y1="284.00" x2="565.60" y2="284.00" stroke="#111" stroke-width="0.8"/>
<circle cx="562.10" cy="284.00" r="1.05" fill="#111"/>
<path d="M605.60 252.00 C605.73 252.95 606.15 255.88 606.40 257.70 C606.65 259.52 606.83 261.52 607.10 262.90 C607.37 264.28 607.68 264.92 608.00 266.00 C608.32 267.08 608.67 268.30 609.00 269.40 C609.33 270.50 609.70 271.53 610.00 272.60 C610.30 273.67 610.50 274.83 610.80 275.80 C611.10 276.77 611.38 277.53 611.80 278.40 C612.22 279.27 612.70 280.25 613.30 281.00 C613.90 281.75 614.65 282.27 615.40 282.90 C616.15 283.53 617.08 284.17 617.80 284.80 C618.52 285.43 619.13 286.05 619.70 286.70 C620.27 287.35 620.73 288.05 621.20 288.70 C621.67 289.35 622.08 289.95 622.50 290.60 C622.92 291.25 623.35 291.87 623.70 292.60 C624.05 293.33 624.45 294.20 624.60 295.00 C624.75 295.80 624.82 296.67 624.60 297.40 C624.38 298.13 623.77 298.80 623.30 299.40 C622.83 300.00 622.33 300.40 621.80 301.00 C621.27 301.60 620.73 302.35 620.10 303.00 C619.47 303.65 618.82 304.05 618.00 304.90 C617.18 305.75 616.05 307.02 615.20 308.10 C614.35 309.18 613.57 310.32 612.90 311.40 C612.23 312.48 611.72 313.53 611.20 314.60 C610.68 315.67 610.20 316.73 609.80 317.80 C609.40 318.87 609.10 319.92 608.80 321.00 C608.50 322.08 608.23 323.22 608.00 324.30 C607.77 325.38 607.58 326.43 607.40 327.50 C607.22 328.57 607.07 329.28 606.90 330.70 C606.73 332.12 606.62 334.28 606.40 336.00 C606.18 337.72 605.73 340.17 605.60 341.00 L605.60 341.00 C605.47 340.17 605.02 337.72 604.80 336.00 C604.58 334.28 604.47 332.12 604.30 330.70 C604.13 329.28 603.98 328.57 603.80 327.50 C603.62 326.43 603.43 325.38 603.20 324.30 C602.97 323.22 602.70 322.08 602.40 321.00 C602.10 319.92 601.80 318.87 601.40 317.80 C601.00 316.73 600.52 315.67 600.00 314.60 C599.48 313.53 598.97 312.48 598.30 311.40 C597.63 310.32 596.85 309.18 596.00 308.10 C595.15 307.02 594.02 305.75 593.20 304.90 C592.38 304.05 591.73 303.65 591.10 303.00 C590.47 302.35 589.93 301.60 589.40 301.00 C588.87 300.40 588.37 300.00 587.90 299.40 C587.43 298.80 586.82 298.13 586.60 297.40 C586.38 296.67 586.45 295.80 586.60 295.00 C586.75 294.20 587.15 293.33 587.50 292.60 C587.85 291.87 588.28 291.25 588.70 290.60 C589.12 289.95 589.53 289.35 590.00 288.70 C590.47 288.05 590.93 287.35 591.50 286.70 C592.07 286.05 592.68 285.43 593.40 284.80 C594.12 284.17 595.05 283.53 595.80 282.90 C596.55 282.27 597.30 281.75 597.90 281.00 C598.50 280.25 598.98 279.27 599.40 278.40 C599.82 277.53 600.10 276.77 600.40 275.80 C600.70 274.83 600.90 273.67 601.20 272.60 C601.50 271.53 601.87 270.50 602.20 269.40 C602.53 268.30 602.88 267.08 603.20 266.00 C603.52 264.92 603.83 264.28 604.10 262.90 C604.37 261.52 604.55 259.52 604.80 257.70 C605.05 255.88 605.47 252.95 605.60 252.00 Z" fill="#A3A500" stroke="#333" stroke-width="0.55"/>
<line x1="605.60" y1="210.90" x2="605.60" y2="339.80" stroke="#262626" stroke-width="0.75"/>
<rect x="602.10" y="288.10" width="7.00" height="16.10" fill="#A3A500" stroke="#2e2e2e" stroke-width="0.6"/>
<line x1="602.10" y1="297.00" x2="609.10" y2="297.00" stroke="#111" stroke-width="0.8"/>
<circle cx="605.60" cy="297.00" r="1.05" fill="#111"/>
<path d="M649.40 250.10 C649.65 250.33 650.43 251.02 650.90 251.50 C651.37 251.98 651.48 252.15 652.20 253.00 C652.92 253.85 654.08 255.43 655.20 256.60 C656.32 257.77 657.73 258.83 658.90 260.00 C660.07 261.17 661.25 262.43 662.20 263.60 C663.15 264.77 663.92 265.83 664.60 267.00 C665.28 268.17 665.87 269.43 666.30 270.60 C666.73 271.77 666.97 272.83 667.20 274.00 C667.43 275.17 667.55 276.52 667.70 277.60 C667.85 278.68 667.95 279.53 668.10 280.50 C668.25 281.47 668.48 282.43 668.60 283.40 C668.72 284.37 668.75 285.33 668.80 286.30 C668.85 287.27 669.02 288.13 668.90 289.20 C668.78 290.27 668.48 291.53 668.10 292.70 C667.72 293.87 667.18 295.05 666.60 296.20 C666.02 297.35 665.33 298.45 664.60 299.60 C663.87 300.75 663.00 301.93 662.20 303.10 C661.40 304.27 660.58 305.43 659.80 306.60 C659.02 307.77 658.18 308.93 657.50 310.10 C656.82 311.27 656.27 312.43 655.70 313.60 C655.13 314.77 654.58 315.93 654.10 317.10 C653.62 318.27 653.20 319.43 652.80 320.60 C652.40 321.77 652.27 322.93 651.70 324.10 C651.13 325.27 649.78 327.02 649.40 327.60 L649.40 327.60 C649.02 327.02 647.67 325.27 647.10 324.10 C646.53 322.93 646.40 321.77 646.00 320.60 C645.60 319.43 645.18 318.27 644.70 317.10 C644.22 315.93 643.67 314.77 643.10 313.60 C642.53 312.43 641.98 311.27 641.30 310.10 C640.62 308.93 639.78 307.77 639.00 306.60 C638.22 305.43 637.40 304.27 636.60 303.10 C635.80 301.93 634.93 300.75 634.20 299.60 C633.47 298.45 632.78 297.35 632.20 296.20 C631.62 295.05 631.08 293.87 630.70 292.70 C630.32 291.53 630.02 290.27 629.90 289.20 C629.78 288.13 629.95 287.27 630.00 286.30 C630.05 285.33 630.08 284.37 630.20 283.40 C630.32 282.43 630.55 281.47 630.70 280.50 C630.85 279.53 630.95 278.68 631.10 277.60 C631.25 276.52 631.37 275.17 631.60 274.00 C631.83 272.83 632.07 271.77 632.50 270.60 C632.93 269.43 633.52 268.17 634.20 267.00 C634.88 265.83 635.65 264.77 636.60 263.60 C637.55 262.43 638.73 261.17 639.90 260.00 C641.07 258.83 642.48 257.77 643.60 256.60 C644.72 255.43 645.88 253.85 646.60 253.00 C647.32 252.15 647.43 251.98 647.90 251.50 C648.37 251.02 649.15 250.33 649.40 250.10 Z" fill="#00BF7D" stroke="#333" stroke-width="0.55"/>
<line x1="649.40" y1="250.10" x2="649.40" y2="327.60" stroke="#262626" stroke-width="0.75"/>
<rect x="645.90" y="275.20" width="7.00" height="23.30" fill="#00BF7D" stroke="#2e2e2e" stroke-width="0.6"/>
<line x1="645.90" y1="288.00" x2="652.90" y2="288.00" stroke="#111" stroke-width="0.8"/>
<circle cx="649.40" cy="288.00" r="1.05" fill="#111"/>
<path d="M693.30 219.40 C693.43 219.98 693.88 221.47 694.10 222.90 C694.32 224.33 694.37 226.07 694.60 228.00 C694.83 229.93 694.83 232.25 695.50 234.50 C696.17 236.75 697.52 239.17 698.60 241.50 C699.68 243.83 700.77 246.17 702.00 248.50 C703.23 250.83 704.78 253.18 706.00 255.50 C707.22 257.82 708.28 260.08 709.30 262.40 C710.32 264.72 711.50 267.07 712.10 269.40 C712.70 271.73 712.87 274.63 712.90 276.40 C712.93 278.17 712.75 278.47 712.30 280.00 C711.85 281.53 711.03 283.93 710.20 285.60 C709.37 287.27 708.28 288.45 707.30 290.00 C706.32 291.55 705.30 293.40 704.30 294.90 C703.30 296.40 702.17 297.45 701.30 299.00 C700.43 300.55 699.73 302.53 699.10 304.20 C698.47 305.87 697.95 307.45 697.50 309.00 C697.05 310.55 696.77 311.83 696.40 313.50 C696.03 315.17 695.82 317.07 695.30 319.00 C694.78 320.93 693.63 324.08 693.30 325.10 L693.30 325.10 C692.97 324.08 691.82 320.93 691.30 319.00 C690.78 317.07 690.57 315.17 690.20 313.50 C689.83 311.83 689.55 310.55 689.10 309.00 C688.65 307.45 688.13 305.87 687.50 304.20 C686.87 302.53 686.17 300.55 685.30 299.00 C684.43 297.45 683.30 296.40 682.30 294.90 C681.30 293.40 680.28 291.55 679.30 290.00 C678.32 288.45 677.23 287.27 676.40 285.60 C675.57 283.93 674.75 281.53 674.30 280.00 C673.85 278.47 673.67 278.17 673.70 276.40 C673.73 274.63 673.90 271.73 674.50 269.40 C675.10 267.07 676.28 264.72 677.30 262.40 C678.32 260.08 679.38 257.82 680.60 255.50 C681.82 253.18 683.37 250.83 684.60 248.50 C685.83 246.17 686.92 243.83 688.00 241.50 C689.08 239.17 690.43 236.75 691.10 234.50 C691.77 232.25 691.77 229.93 692.00 228.00 C692.23 226.07 692.28 224.33 692.50 222.90 C692.72 221.47 693.17 219.98 693.30 219.40 Z" fill="#00B0F6" stroke="#333" stroke-width="0.55"/>
<line x1="693.30" y1="219.40" x2="693.30" y2="325.10" stroke="#262626" stroke-width="0.75"/>
<rect x="689.80" y="262.20" width="7.00" height="23.80" fill="#00B0F6" stroke="#2e2e2e" stroke-width="0.6"/>
<line x1="689.80" y1="274.00" x2="696.80" y2="274.00" stroke="#111" stroke-width="0.8"/>
<circle cx="693.30" cy="274.00" r="1.05" fill="#111"/>
<path d="M736.90 236.00 C737.07 236.67 737.65 238.67 737.90 240.00 C738.15 241.33 738.27 242.83 738.40 244.00 C738.53 245.17 738.60 246.10 738.70 247.00 C738.80 247.90 738.83 248.68 739.00 249.40 C739.17 250.12 739.40 250.67 739.70 251.30 C740.00 251.93 740.30 252.57 740.80 253.20 C741.30 253.83 742.02 254.45 742.70 255.10 C743.38 255.75 744.20 256.45 744.90 257.10 C745.60 257.75 746.27 258.35 746.90 259.00 C747.53 259.65 748.10 260.35 748.70 261.00 C749.30 261.65 749.95 262.27 750.50 262.90 C751.05 263.53 751.53 264.17 752.00 264.80 C752.47 265.43 752.92 266.05 753.30 266.70 C753.68 267.35 753.97 267.93 754.30 268.70 C754.63 269.47 755.03 270.43 755.30 271.30 C755.57 272.17 755.73 273.03 755.90 273.90 C756.07 274.77 756.27 275.65 756.30 276.50 C756.33 277.35 756.33 278.17 756.10 279.00 C755.87 279.83 755.38 280.68 754.90 281.50 C754.42 282.32 754.15 282.65 753.20 283.90 C752.25 285.15 750.58 287.33 749.20 289.00 C747.82 290.67 746.03 292.23 744.90 293.90 C743.77 295.57 743.08 297.32 742.40 299.00 C741.72 300.68 741.25 302.17 740.80 304.00 C740.35 305.83 740.02 307.77 739.70 310.00 C739.38 312.23 739.17 314.90 738.90 317.40 C738.63 319.90 738.43 322.48 738.10 325.00 C737.77 327.52 737.10 331.25 736.90 332.50 L736.90 332.50 C736.70 331.25 736.03 327.52 735.70 325.00 C735.37 322.48 735.17 319.90 734.90 317.40 C734.63 314.90 734.42 312.23 734.10 310.00 C733.78 307.77 733.45 305.83 733.00 304.00 C732.55 302.17 732.08 300.68 731.40 299.00 C730.72 297.32 730.03 295.57 728.90 293.90 C727.77 292.23 725.98 290.67 724.60 289.00 C723.22 287.33 721.55 285.15 720.60 283.90 C719.65 282.65 719.38 282.32 718.90 281.50 C718.42 280.68 717.93 279.83 717.70 279.00 C717.47 278.17 717.47 277.35 717.50 276.50 C717.53 275.65 717.73 274.77 717.90 273.90 C718.07 273.03 718.23 272.17 718.50 271.30 C718.77 270.43 719.17 269.47 719.50 268.70 C719.83 267.93 720.12 267.35 720.50 266.70 C720.88 266.05 721.33 265.43 721.80 264.80 C722.27 264.17 722.75 263.53 723.30 262.90 C723.85 262.27 724.50 261.65 725.10 261.00 C725.70 260.35 726.27 259.65 726.90 259.00 C727.53 258.35 728.20 257.75 728.90 257.10 C729.60 256.45 730.42 255.75 731.10 255.10 C731.78 254.45 732.50 253.83 733.00 253.20 C733.50 252.57 733.80 251.93 734.10 251.30 C734.40 250.67 734.63 250.12 734.80 249.40 C734.97 248.68 735.00 247.90 735.10 247.00 C735.20 246.10 735.27 245.17 735.40 244.00 C735.53 242.83 735.65 241.33 735.90 240.00 C736.15 238.67 736.73 236.67 736.90 236.00 Z" fill="#E76BF3" stroke="#333" stroke-width="0.55"/>
<line x1="736.90" y1="225.30" x2="736.90" y2="334.40" stroke="#262626" stroke-width="0.75"/>
<rect x="733.40" y="270.30" width="7.00" height="20.60" fill="#E76BF3" stroke="#2e2e2e" stroke-width="0.6"/>
<line x1="733.40" y1="280.00" x2="740.40" y2="280.00" stroke="#111" stroke-width="0.8"/>
<circle cx="736.90" cy="280.90" r="1.05" fill="#111"/>
<rect x="535.60" y="196.30" width="226.80" height="154.20" fill="none" stroke="#303030" stroke-width="1.15"/>
<line x1="533.60" y1="221.80" x2="535.60" y2="221.80" stroke="#444" stroke-width="0.6"/>
<text class="t" x="532.40" y="221.80" text-anchor="end" dominant-baseline="central">1.5</text>
<line x1="533.60" y1="266.20" x2="535.60" y2="266.20" stroke="#444" stroke-width="0.6"/>
<text class="t" x="532.40" y="266.20" text-anchor="end" dominant-baseline="central">1.0</text>
<line x1="533.60" y1="311.30" x2="535.60" y2="311.30" stroke="#444" stroke-width="0.6"/>
<text class="t" x="532.40" y="311.30" text-anchor="end" dominant-baseline="central">0.5</text>
<line x1="533.60" y1="348.00" x2="535.60" y2="348.00" stroke="#444" stroke-width="0.6"/>
<text class="t" x="532.40" y="348.00" text-anchor="end" dominant-baseline="central">0.0</text>
<line x1="561.90" y1="350.50" x2="561.90" y2="352.50" stroke="#444" stroke-width="0.6"/>
<text class="t" x="561.90" y="357.20" text-anchor="middle" dominant-baseline="central">2010DL</text>
<line x1="605.60" y1="350.50" x2="605.60" y2="352.50" stroke="#444" stroke-width="0.6"/>
<text class="t" x="605.60" y="357.20" text-anchor="middle" dominant-baseline="central">2011DL</text>
<line x1="649.70" y1="350.50" x2="649.70" y2="352.50" stroke="#444" stroke-width="0.6"/>
<text class="t" x="649.70" y="357.20" text-anchor="middle" dominant-baseline="central">2012DL</text>
<line x1="693.20" y1="350.50" x2="693.20" y2="352.50" stroke="#444" stroke-width="0.6"/>
<text class="t" x="693.20" y="357.20" text-anchor="middle" dominant-baseline="central">2013DL</text>
<line x1="736.80" y1="350.50" x2="736.80" y2="352.50" stroke="#444" stroke-width="0.6"/>
<text class="t" x="736.80" y="357.20" text-anchor="middle" dominant-baseline="central">2014DL</text>
<text class="ti" x="649.40" y="365.70" text-anchor="middle" dominant-baseline="central">Silique volume</text>
<text x="518.20" y="263.20" text-anchor="middle" dominant-baseline="central" class="yl" transform="rotate(-90 518.20 263.20)">Phenotype value</text>
</svg>
</body></html>
